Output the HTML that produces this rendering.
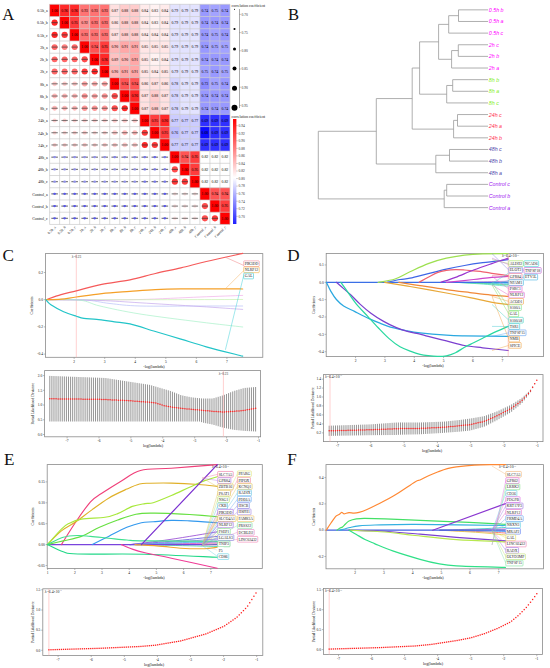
<!DOCTYPE html>
<html><head><meta charset="utf-8"><style>
html,body{margin:0;padding:0;background:#fff;width:550px;height:668px;overflow:hidden;}
svg{display:block;}
</style></head><body>
<svg width="550" height="668" viewBox="0 0 550 668">
<rect width="550" height="668" fill="#fff"/>
<g id="A">
<text x="2.2" y="19.9" font-family="Liberation Serif" font-size="16.6" fill="#111">A</text>
<rect x="49.6" y="4.3" width="10.02" height="12.23" fill="#ff0000"/>
<rect x="59.62" y="4.3" width="10.02" height="12.23" fill="#ff2929"/>
<rect x="69.64" y="4.3" width="10.02" height="12.23" fill="#ff2929"/>
<rect x="79.66" y="4.3" width="10.02" height="12.23" fill="#ff7373"/>
<rect x="89.68" y="4.3" width="10.02" height="12.23" fill="#ff7373"/>
<rect x="99.7" y="4.3" width="10.02" height="12.23" fill="#ff7373"/>
<rect x="109.72" y="4.3" width="10.02" height="12.23" fill="#ffe0e0"/>
<rect x="119.74" y="4.3" width="10.02" height="12.23" fill="#ffcccc"/>
<rect x="129.76" y="4.3" width="10.02" height="12.23" fill="#ffcccc"/>
<rect x="139.78" y="4.3" width="10.02" height="12.23" fill="#ffebeb"/>
<rect x="149.8" y="4.3" width="10.02" height="12.23" fill="#fff2f2"/>
<rect x="159.82" y="4.3" width="10.02" height="12.23" fill="#ffebeb"/>
<rect x="169.84" y="4.3" width="10.02" height="12.23" fill="#e3e3ff"/>
<rect x="179.86" y="4.3" width="10.02" height="12.23" fill="#e3e3ff"/>
<rect x="189.88" y="4.3" width="10.02" height="12.23" fill="#e3e3ff"/>
<rect x="199.9" y="4.3" width="10.02" height="12.23" fill="#9999ff"/>
<rect x="209.92" y="4.3" width="10.02" height="12.23" fill="#a3a3ff"/>
<rect x="219.94" y="4.3" width="10.02" height="12.23" fill="#9999ff"/>
<rect x="59.62" y="16.53" width="10.02" height="12.23" fill="#ff0000"/>
<rect x="69.64" y="16.53" width="10.02" height="12.23" fill="#ff3d3d"/>
<rect x="79.66" y="16.53" width="10.02" height="12.23" fill="#ff8f8f"/>
<rect x="89.68" y="16.53" width="10.02" height="12.23" fill="#ff7373"/>
<rect x="99.7" y="16.53" width="10.02" height="12.23" fill="#ff7373"/>
<rect x="109.72" y="16.53" width="10.02" height="12.23" fill="#ffe3e3"/>
<rect x="119.74" y="16.53" width="10.02" height="12.23" fill="#ffcccc"/>
<rect x="129.76" y="16.53" width="10.02" height="12.23" fill="#ffcccc"/>
<rect x="139.78" y="16.53" width="10.02" height="12.23" fill="#ffebeb"/>
<rect x="149.8" y="16.53" width="10.02" height="12.23" fill="#fff2f2"/>
<rect x="159.82" y="16.53" width="10.02" height="12.23" fill="#ffebeb"/>
<rect x="169.84" y="16.53" width="10.02" height="12.23" fill="#e3e3ff"/>
<rect x="179.86" y="16.53" width="10.02" height="12.23" fill="#e3e3ff"/>
<rect x="189.88" y="16.53" width="10.02" height="12.23" fill="#e3e3ff"/>
<rect x="199.9" y="16.53" width="10.02" height="12.23" fill="#9999ff"/>
<rect x="209.92" y="16.53" width="10.02" height="12.23" fill="#9999ff"/>
<rect x="219.94" y="16.53" width="10.02" height="12.23" fill="#9999ff"/>
<rect x="69.64" y="28.76" width="10.02" height="12.23" fill="#ff0000"/>
<rect x="79.66" y="28.76" width="10.02" height="12.23" fill="#ff7373"/>
<rect x="89.68" y="28.76" width="10.02" height="12.23" fill="#ff7373"/>
<rect x="99.7" y="28.76" width="10.02" height="12.23" fill="#ff7373"/>
<rect x="109.72" y="28.76" width="10.02" height="12.23" fill="#ffe0e0"/>
<rect x="119.74" y="28.76" width="10.02" height="12.23" fill="#ffcccc"/>
<rect x="129.76" y="28.76" width="10.02" height="12.23" fill="#ffcccc"/>
<rect x="139.78" y="28.76" width="10.02" height="12.23" fill="#ffebeb"/>
<rect x="149.8" y="28.76" width="10.02" height="12.23" fill="#ffebeb"/>
<rect x="159.82" y="28.76" width="10.02" height="12.23" fill="#ffebeb"/>
<rect x="169.84" y="28.76" width="10.02" height="12.23" fill="#e3e3ff"/>
<rect x="179.86" y="28.76" width="10.02" height="12.23" fill="#e3e3ff"/>
<rect x="189.88" y="28.76" width="10.02" height="12.23" fill="#e3e3ff"/>
<rect x="199.9" y="28.76" width="10.02" height="12.23" fill="#9999ff"/>
<rect x="209.92" y="28.76" width="10.02" height="12.23" fill="#a3a3ff"/>
<rect x="219.94" y="28.76" width="10.02" height="12.23" fill="#9999ff"/>
<rect x="79.66" y="40.99" width="10.02" height="12.23" fill="#ff0000"/>
<rect x="89.68" y="40.99" width="10.02" height="12.23" fill="#ff5454"/>
<rect x="99.7" y="40.99" width="10.02" height="12.23" fill="#ff3d3d"/>
<rect x="109.72" y="40.99" width="10.02" height="12.23" fill="#ffb8b8"/>
<rect x="119.74" y="40.99" width="10.02" height="12.23" fill="#ffa8a8"/>
<rect x="129.76" y="40.99" width="10.02" height="12.23" fill="#ffa8a8"/>
<rect x="139.78" y="40.99" width="10.02" height="12.23" fill="#ffe6e6"/>
<rect x="149.8" y="40.99" width="10.02" height="12.23" fill="#ffe6e6"/>
<rect x="159.82" y="40.99" width="10.02" height="12.23" fill="#ffe6e6"/>
<rect x="169.84" y="40.99" width="10.02" height="12.23" fill="#e3e3ff"/>
<rect x="179.86" y="40.99" width="10.02" height="12.23" fill="#e3e3ff"/>
<rect x="189.88" y="40.99" width="10.02" height="12.23" fill="#e3e3ff"/>
<rect x="199.9" y="40.99" width="10.02" height="12.23" fill="#9999ff"/>
<rect x="209.92" y="40.99" width="10.02" height="12.23" fill="#a3a3ff"/>
<rect x="219.94" y="40.99" width="10.02" height="12.23" fill="#a3a3ff"/>
<rect x="89.68" y="53.22" width="10.02" height="12.23" fill="#ff0000"/>
<rect x="99.7" y="53.22" width="10.02" height="12.23" fill="#ff2929"/>
<rect x="109.72" y="53.22" width="10.02" height="12.23" fill="#ffc2c2"/>
<rect x="119.74" y="53.22" width="10.02" height="12.23" fill="#ffb8b8"/>
<rect x="129.76" y="53.22" width="10.02" height="12.23" fill="#ffa8a8"/>
<rect x="139.78" y="53.22" width="10.02" height="12.23" fill="#ffe6e6"/>
<rect x="149.8" y="53.22" width="10.02" height="12.23" fill="#fff2f2"/>
<rect x="159.82" y="53.22" width="10.02" height="12.23" fill="#ffebeb"/>
<rect x="169.84" y="53.22" width="10.02" height="12.23" fill="#e3e3ff"/>
<rect x="179.86" y="53.22" width="10.02" height="12.23" fill="#e3e3ff"/>
<rect x="189.88" y="53.22" width="10.02" height="12.23" fill="#e3e3ff"/>
<rect x="199.9" y="53.22" width="10.02" height="12.23" fill="#9999ff"/>
<rect x="209.92" y="53.22" width="10.02" height="12.23" fill="#9999ff"/>
<rect x="219.94" y="53.22" width="10.02" height="12.23" fill="#9999ff"/>
<rect x="99.7" y="65.45" width="10.02" height="12.23" fill="#ff0000"/>
<rect x="109.72" y="65.45" width="10.02" height="12.23" fill="#ffb8b8"/>
<rect x="119.74" y="65.45" width="10.02" height="12.23" fill="#ffa8a8"/>
<rect x="129.76" y="65.45" width="10.02" height="12.23" fill="#ffa8a8"/>
<rect x="139.78" y="65.45" width="10.02" height="12.23" fill="#ffe6e6"/>
<rect x="149.8" y="65.45" width="10.02" height="12.23" fill="#ffebeb"/>
<rect x="159.82" y="65.45" width="10.02" height="12.23" fill="#ffe6e6"/>
<rect x="169.84" y="65.45" width="10.02" height="12.23" fill="#e3e3ff"/>
<rect x="179.86" y="65.45" width="10.02" height="12.23" fill="#e3e3ff"/>
<rect x="189.88" y="65.45" width="10.02" height="12.23" fill="#e3e3ff"/>
<rect x="199.9" y="65.45" width="10.02" height="12.23" fill="#a3a3ff"/>
<rect x="209.92" y="65.45" width="10.02" height="12.23" fill="#9999ff"/>
<rect x="219.94" y="65.45" width="10.02" height="12.23" fill="#a3a3ff"/>
<rect x="109.72" y="77.68" width="10.02" height="12.23" fill="#ff0000"/>
<rect x="119.74" y="77.68" width="10.02" height="12.23" fill="#ff5454"/>
<rect x="129.76" y="77.68" width="10.02" height="12.23" fill="#ff5454"/>
<rect x="139.78" y="77.68" width="10.02" height="12.23" fill="#ffe3e3"/>
<rect x="149.8" y="77.68" width="10.02" height="12.23" fill="#ffe0e0"/>
<rect x="159.82" y="77.68" width="10.02" height="12.23" fill="#ffe3e3"/>
<rect x="169.84" y="77.68" width="10.02" height="12.23" fill="#d6d6ff"/>
<rect x="179.86" y="77.68" width="10.02" height="12.23" fill="#e3e3ff"/>
<rect x="189.88" y="77.68" width="10.02" height="12.23" fill="#e3e3ff"/>
<rect x="199.9" y="77.68" width="10.02" height="12.23" fill="#8c8cff"/>
<rect x="209.92" y="77.68" width="10.02" height="12.23" fill="#a3a3ff"/>
<rect x="219.94" y="77.68" width="10.02" height="12.23" fill="#9999ff"/>
<rect x="119.74" y="89.91" width="10.02" height="12.23" fill="#ff0000"/>
<rect x="129.76" y="89.91" width="10.02" height="12.23" fill="#ff2929"/>
<rect x="139.78" y="89.91" width="10.02" height="12.23" fill="#ffe0e0"/>
<rect x="149.8" y="89.91" width="10.02" height="12.23" fill="#ffcccc"/>
<rect x="159.82" y="89.91" width="10.02" height="12.23" fill="#ffe0e0"/>
<rect x="169.84" y="89.91" width="10.02" height="12.23" fill="#d6d6ff"/>
<rect x="179.86" y="89.91" width="10.02" height="12.23" fill="#e3e3ff"/>
<rect x="189.88" y="89.91" width="10.02" height="12.23" fill="#e3e3ff"/>
<rect x="199.9" y="89.91" width="10.02" height="12.23" fill="#9999ff"/>
<rect x="209.92" y="89.91" width="10.02" height="12.23" fill="#9999ff"/>
<rect x="219.94" y="89.91" width="10.02" height="12.23" fill="#9999ff"/>
<rect x="129.76" y="102.14" width="10.02" height="12.23" fill="#ff0000"/>
<rect x="139.78" y="102.14" width="10.02" height="12.23" fill="#ffe0e0"/>
<rect x="149.8" y="102.14" width="10.02" height="12.23" fill="#ffcccc"/>
<rect x="159.82" y="102.14" width="10.02" height="12.23" fill="#ffe0e0"/>
<rect x="169.84" y="102.14" width="10.02" height="12.23" fill="#d6d6ff"/>
<rect x="179.86" y="102.14" width="10.02" height="12.23" fill="#e3e3ff"/>
<rect x="189.88" y="102.14" width="10.02" height="12.23" fill="#e3e3ff"/>
<rect x="199.9" y="102.14" width="10.02" height="12.23" fill="#9999ff"/>
<rect x="209.92" y="102.14" width="10.02" height="12.23" fill="#9999ff"/>
<rect x="219.94" y="102.14" width="10.02" height="12.23" fill="#9999ff"/>
<rect x="139.78" y="114.37" width="10.02" height="12.23" fill="#ff0000"/>
<rect x="149.8" y="114.37" width="10.02" height="12.23" fill="#ff3d3d"/>
<rect x="159.82" y="114.37" width="10.02" height="12.23" fill="#ff2929"/>
<rect x="169.84" y="114.37" width="10.02" height="12.23" fill="#ccccff"/>
<rect x="179.86" y="114.37" width="10.02" height="12.23" fill="#ccccff"/>
<rect x="189.88" y="114.37" width="10.02" height="12.23" fill="#ccccff"/>
<rect x="199.9" y="114.37" width="10.02" height="12.23" fill="#3030ff"/>
<rect x="209.92" y="114.37" width="10.02" height="12.23" fill="#3030ff"/>
<rect x="219.94" y="114.37" width="10.02" height="12.23" fill="#3030ff"/>
<rect x="149.8" y="126.6" width="10.02" height="12.23" fill="#ff0000"/>
<rect x="159.82" y="126.6" width="10.02" height="12.23" fill="#ff3d3d"/>
<rect x="169.84" y="126.6" width="10.02" height="12.23" fill="#bfbfff"/>
<rect x="179.86" y="126.6" width="10.02" height="12.23" fill="#ccccff"/>
<rect x="189.88" y="126.6" width="10.02" height="12.23" fill="#ccccff"/>
<rect x="199.9" y="126.6" width="10.02" height="12.23" fill="#0d0dff"/>
<rect x="209.92" y="126.6" width="10.02" height="12.23" fill="#3030ff"/>
<rect x="219.94" y="126.6" width="10.02" height="12.23" fill="#3030ff"/>
<rect x="159.82" y="138.83" width="10.02" height="12.23" fill="#ff0000"/>
<rect x="169.84" y="138.83" width="10.02" height="12.23" fill="#ccccff"/>
<rect x="179.86" y="138.83" width="10.02" height="12.23" fill="#ccccff"/>
<rect x="189.88" y="138.83" width="10.02" height="12.23" fill="#ccccff"/>
<rect x="199.9" y="138.83" width="10.02" height="12.23" fill="#3030ff"/>
<rect x="209.92" y="138.83" width="10.02" height="12.23" fill="#3030ff"/>
<rect x="219.94" y="138.83" width="10.02" height="12.23" fill="#3030ff"/>
<rect x="169.84" y="151.06" width="10.02" height="12.23" fill="#ff0000"/>
<rect x="179.86" y="151.06" width="10.02" height="12.23" fill="#ff5454"/>
<rect x="189.88" y="151.06" width="10.02" height="12.23" fill="#ff3d3d"/>
<rect x="199.9" y="151.06" width="10.02" height="12.23" fill="#ffffff"/>
<rect x="209.92" y="151.06" width="10.02" height="12.23" fill="#ffffff"/>
<rect x="219.94" y="151.06" width="10.02" height="12.23" fill="#ffffff"/>
<rect x="179.86" y="163.29" width="10.02" height="12.23" fill="#ff0000"/>
<rect x="189.88" y="163.29" width="10.02" height="12.23" fill="#ff3d3d"/>
<rect x="199.9" y="163.29" width="10.02" height="12.23" fill="#ffffff"/>
<rect x="209.92" y="163.29" width="10.02" height="12.23" fill="#ffffff"/>
<rect x="219.94" y="163.29" width="10.02" height="12.23" fill="#ffffff"/>
<rect x="189.88" y="175.52" width="10.02" height="12.23" fill="#ff0000"/>
<rect x="199.9" y="175.52" width="10.02" height="12.23" fill="#ffffff"/>
<rect x="209.92" y="175.52" width="10.02" height="12.23" fill="#ffffff"/>
<rect x="219.94" y="175.52" width="10.02" height="12.23" fill="#ffffff"/>
<rect x="199.9" y="187.75" width="10.02" height="12.23" fill="#ff0000"/>
<rect x="209.92" y="187.75" width="10.02" height="12.23" fill="#ff5454"/>
<rect x="219.94" y="187.75" width="10.02" height="12.23" fill="#ff5454"/>
<rect x="209.92" y="199.98" width="10.02" height="12.23" fill="#ff0000"/>
<rect x="219.94" y="199.98" width="10.02" height="12.23" fill="#ff3d3d"/>
<rect x="219.94" y="212.21" width="10.02" height="12.23" fill="#ff0000"/>
<line x1="49.6" y1="4.3" x2="229.96" y2="4.3" stroke="#c8c8c8" stroke-width="0.65"/>
<line x1="49.6" y1="16.53" x2="229.96" y2="16.53" stroke="#c8c8c8" stroke-width="0.65"/>
<line x1="49.6" y1="28.76" x2="229.96" y2="28.76" stroke="#c8c8c8" stroke-width="0.65"/>
<line x1="49.6" y1="40.99" x2="229.96" y2="40.99" stroke="#c8c8c8" stroke-width="0.65"/>
<line x1="49.6" y1="53.22" x2="229.96" y2="53.22" stroke="#c8c8c8" stroke-width="0.65"/>
<line x1="49.6" y1="65.45" x2="229.96" y2="65.45" stroke="#c8c8c8" stroke-width="0.65"/>
<line x1="49.6" y1="77.68" x2="229.96" y2="77.68" stroke="#c8c8c8" stroke-width="0.65"/>
<line x1="49.6" y1="89.91" x2="229.96" y2="89.91" stroke="#c8c8c8" stroke-width="0.65"/>
<line x1="49.6" y1="102.14" x2="229.96" y2="102.14" stroke="#c8c8c8" stroke-width="0.65"/>
<line x1="49.6" y1="114.37" x2="229.96" y2="114.37" stroke="#c8c8c8" stroke-width="0.65"/>
<line x1="49.6" y1="126.6" x2="229.96" y2="126.6" stroke="#c8c8c8" stroke-width="0.65"/>
<line x1="49.6" y1="138.83" x2="229.96" y2="138.83" stroke="#c8c8c8" stroke-width="0.65"/>
<line x1="49.6" y1="151.06" x2="229.96" y2="151.06" stroke="#c8c8c8" stroke-width="0.65"/>
<line x1="49.6" y1="163.29" x2="229.96" y2="163.29" stroke="#c8c8c8" stroke-width="0.65"/>
<line x1="49.6" y1="175.52" x2="229.96" y2="175.52" stroke="#c8c8c8" stroke-width="0.65"/>
<line x1="49.6" y1="187.75" x2="229.96" y2="187.75" stroke="#c8c8c8" stroke-width="0.65"/>
<line x1="49.6" y1="199.98" x2="229.96" y2="199.98" stroke="#c8c8c8" stroke-width="0.65"/>
<line x1="49.6" y1="212.21" x2="229.96" y2="212.21" stroke="#c8c8c8" stroke-width="0.65"/>
<line x1="49.6" y1="224.44" x2="229.96" y2="224.44" stroke="#c8c8c8" stroke-width="0.65"/>
<line x1="49.6" y1="4.3" x2="49.6" y2="224.44" stroke="#c8c8c8" stroke-width="0.65"/>
<line x1="59.62" y1="4.3" x2="59.62" y2="224.44" stroke="#c8c8c8" stroke-width="0.65"/>
<line x1="69.64" y1="4.3" x2="69.64" y2="224.44" stroke="#c8c8c8" stroke-width="0.65"/>
<line x1="79.66" y1="4.3" x2="79.66" y2="224.44" stroke="#c8c8c8" stroke-width="0.65"/>
<line x1="89.68" y1="4.3" x2="89.68" y2="224.44" stroke="#c8c8c8" stroke-width="0.65"/>
<line x1="99.7" y1="4.3" x2="99.7" y2="224.44" stroke="#c8c8c8" stroke-width="0.65"/>
<line x1="109.72" y1="4.3" x2="109.72" y2="224.44" stroke="#c8c8c8" stroke-width="0.65"/>
<line x1="119.74" y1="4.3" x2="119.74" y2="224.44" stroke="#c8c8c8" stroke-width="0.65"/>
<line x1="129.76" y1="4.3" x2="129.76" y2="224.44" stroke="#c8c8c8" stroke-width="0.65"/>
<line x1="139.78" y1="4.3" x2="139.78" y2="224.44" stroke="#c8c8c8" stroke-width="0.65"/>
<line x1="149.8" y1="4.3" x2="149.8" y2="224.44" stroke="#c8c8c8" stroke-width="0.65"/>
<line x1="159.82" y1="4.3" x2="159.82" y2="224.44" stroke="#c8c8c8" stroke-width="0.65"/>
<line x1="169.84" y1="4.3" x2="169.84" y2="224.44" stroke="#c8c8c8" stroke-width="0.65"/>
<line x1="179.86" y1="4.3" x2="179.86" y2="224.44" stroke="#c8c8c8" stroke-width="0.65"/>
<line x1="189.88" y1="4.3" x2="189.88" y2="224.44" stroke="#c8c8c8" stroke-width="0.65"/>
<line x1="199.9" y1="4.3" x2="199.9" y2="224.44" stroke="#c8c8c8" stroke-width="0.65"/>
<line x1="209.92" y1="4.3" x2="209.92" y2="224.44" stroke="#c8c8c8" stroke-width="0.65"/>
<line x1="219.94" y1="4.3" x2="219.94" y2="224.44" stroke="#c8c8c8" stroke-width="0.65"/>
<line x1="229.96" y1="4.3" x2="229.96" y2="224.44" stroke="#c8c8c8" stroke-width="0.65"/>
<g font-family="Liberation Serif" font-size="3.8" fill="#000" text-anchor="middle">
<text x="54.61" y="11.71">1.00</text>
<text x="64.63" y="11.71">0.96</text>
<text x="74.65" y="11.71">0.96</text>
<text x="84.67" y="11.71">0.93</text>
<text x="94.69" y="11.71">0.93</text>
<text x="104.71" y="11.71">0.93</text>
<text x="114.73" y="11.71">0.87</text>
<text x="124.75" y="11.71">0.88</text>
<text x="134.77" y="11.71">0.88</text>
<text x="144.79" y="11.71">0.84</text>
<text x="154.81" y="11.71">0.83</text>
<text x="164.83" y="11.71">0.84</text>
<text x="174.85" y="11.71">0.79</text>
<text x="184.87" y="11.71">0.79</text>
<text x="194.89" y="11.71">0.79</text>
<text x="204.91" y="11.71">0.74</text>
<text x="214.93" y="11.71">0.75</text>
<text x="224.95" y="11.71">0.74</text>
<text x="64.63" y="23.95">1.00</text>
<text x="74.65" y="23.95">0.95</text>
<text x="84.67" y="23.95">0.92</text>
<text x="94.69" y="23.95">0.93</text>
<text x="104.71" y="23.95">0.93</text>
<text x="114.73" y="23.95">0.86</text>
<text x="124.75" y="23.95">0.88</text>
<text x="134.77" y="23.95">0.88</text>
<text x="144.79" y="23.95">0.84</text>
<text x="154.81" y="23.95">0.83</text>
<text x="164.83" y="23.95">0.84</text>
<text x="174.85" y="23.95">0.79</text>
<text x="184.87" y="23.95">0.79</text>
<text x="194.89" y="23.95">0.79</text>
<text x="204.91" y="23.95">0.74</text>
<text x="214.93" y="23.95">0.74</text>
<text x="224.95" y="23.95">0.74</text>
<text x="74.65" y="36.17">1.00</text>
<text x="84.67" y="36.17">0.93</text>
<text x="94.69" y="36.17">0.93</text>
<text x="104.71" y="36.17">0.93</text>
<text x="114.73" y="36.17">0.87</text>
<text x="124.75" y="36.17">0.88</text>
<text x="134.77" y="36.17">0.88</text>
<text x="144.79" y="36.17">0.84</text>
<text x="154.81" y="36.17">0.84</text>
<text x="164.83" y="36.17">0.84</text>
<text x="174.85" y="36.17">0.79</text>
<text x="184.87" y="36.17">0.79</text>
<text x="194.89" y="36.17">0.79</text>
<text x="204.91" y="36.17">0.74</text>
<text x="214.93" y="36.17">0.75</text>
<text x="224.95" y="36.17">0.74</text>
<text x="84.67" y="48.4">1.00</text>
<text x="94.69" y="48.4">0.94</text>
<text x="104.71" y="48.4">0.95</text>
<text x="114.73" y="48.4">0.90</text>
<text x="124.75" y="48.4">0.91</text>
<text x="134.77" y="48.4">0.91</text>
<text x="144.79" y="48.4">0.85</text>
<text x="154.81" y="48.4">0.85</text>
<text x="164.83" y="48.4">0.85</text>
<text x="174.85" y="48.4">0.79</text>
<text x="184.87" y="48.4">0.79</text>
<text x="194.89" y="48.4">0.79</text>
<text x="204.91" y="48.4">0.74</text>
<text x="214.93" y="48.4">0.75</text>
<text x="224.95" y="48.4">0.75</text>
<text x="94.69" y="60.63">1.00</text>
<text x="104.71" y="60.63">0.96</text>
<text x="114.73" y="60.63">0.89</text>
<text x="124.75" y="60.63">0.90</text>
<text x="134.77" y="60.63">0.91</text>
<text x="144.79" y="60.63">0.85</text>
<text x="154.81" y="60.63">0.83</text>
<text x="164.83" y="60.63">0.84</text>
<text x="174.85" y="60.63">0.79</text>
<text x="184.87" y="60.63">0.79</text>
<text x="194.89" y="60.63">0.79</text>
<text x="204.91" y="60.63">0.74</text>
<text x="214.93" y="60.63">0.74</text>
<text x="224.95" y="60.63">0.74</text>
<text x="104.71" y="72.86">1.00</text>
<text x="114.73" y="72.86">0.90</text>
<text x="124.75" y="72.86">0.91</text>
<text x="134.77" y="72.86">0.91</text>
<text x="144.79" y="72.86">0.85</text>
<text x="154.81" y="72.86">0.84</text>
<text x="164.83" y="72.86">0.85</text>
<text x="174.85" y="72.86">0.79</text>
<text x="184.87" y="72.86">0.79</text>
<text x="194.89" y="72.86">0.79</text>
<text x="204.91" y="72.86">0.75</text>
<text x="214.93" y="72.86">0.74</text>
<text x="224.95" y="72.86">0.75</text>
<text x="114.73" y="85.09">1.00</text>
<text x="124.75" y="85.09">0.94</text>
<text x="134.77" y="85.09">0.94</text>
<text x="144.79" y="85.09">0.86</text>
<text x="154.81" y="85.09">0.87</text>
<text x="164.83" y="85.09">0.86</text>
<text x="174.85" y="85.09">0.78</text>
<text x="184.87" y="85.09">0.79</text>
<text x="194.89" y="85.09">0.79</text>
<text x="204.91" y="85.09">0.73</text>
<text x="214.93" y="85.09">0.75</text>
<text x="224.95" y="85.09">0.74</text>
<text x="124.75" y="97.33">1.00</text>
<text x="134.77" y="97.33">0.96</text>
<text x="144.79" y="97.33">0.87</text>
<text x="154.81" y="97.33">0.88</text>
<text x="164.83" y="97.33">0.87</text>
<text x="174.85" y="97.33">0.78</text>
<text x="184.87" y="97.33">0.79</text>
<text x="194.89" y="97.33">0.79</text>
<text x="204.91" y="97.33">0.74</text>
<text x="214.93" y="97.33">0.74</text>
<text x="224.95" y="97.33">0.74</text>
<text x="134.77" y="109.55">1.00</text>
<text x="144.79" y="109.55">0.87</text>
<text x="154.81" y="109.55">0.88</text>
<text x="164.83" y="109.55">0.87</text>
<text x="174.85" y="109.55">0.78</text>
<text x="184.87" y="109.55">0.79</text>
<text x="194.89" y="109.55">0.79</text>
<text x="204.91" y="109.55">0.74</text>
<text x="214.93" y="109.55">0.74</text>
<text x="224.95" y="109.55">0.74</text>
<text x="144.79" y="121.78">1.00</text>
<text x="154.81" y="121.78">0.95</text>
<text x="164.83" y="121.78">0.96</text>
<text x="174.85" y="121.78">0.77</text>
<text x="184.87" y="121.78">0.77</text>
<text x="194.89" y="121.78">0.77</text>
<text x="204.91" y="121.78">0.69</text>
<text x="214.93" y="121.78">0.69</text>
<text x="224.95" y="121.78">0.69</text>
<text x="154.81" y="134.02">1.00</text>
<text x="164.83" y="134.02">0.95</text>
<text x="174.85" y="134.02">0.76</text>
<text x="184.87" y="134.02">0.77</text>
<text x="194.89" y="134.02">0.77</text>
<text x="204.91" y="134.02">0.68</text>
<text x="214.93" y="134.02">0.69</text>
<text x="224.95" y="134.02">0.69</text>
<text x="164.83" y="146.25">1.00</text>
<text x="174.85" y="146.25">0.77</text>
<text x="184.87" y="146.25">0.77</text>
<text x="194.89" y="146.25">0.77</text>
<text x="204.91" y="146.25">0.69</text>
<text x="214.93" y="146.25">0.69</text>
<text x="224.95" y="146.25">0.69</text>
<text x="174.85" y="158.48">1.00</text>
<text x="184.87" y="158.48">0.94</text>
<text x="194.89" y="158.48">0.95</text>
<text x="204.91" y="158.48">0.82</text>
<text x="214.93" y="158.48">0.82</text>
<text x="224.95" y="158.48">0.82</text>
<text x="184.87" y="170.71">1.00</text>
<text x="194.89" y="170.71">0.95</text>
<text x="204.91" y="170.71">0.82</text>
<text x="214.93" y="170.71">0.82</text>
<text x="224.95" y="170.71">0.82</text>
<text x="194.89" y="182.94">1.00</text>
<text x="204.91" y="182.94">0.82</text>
<text x="214.93" y="182.94">0.82</text>
<text x="224.95" y="182.94">0.82</text>
<text x="204.91" y="195.17">1.00</text>
<text x="214.93" y="195.17">0.94</text>
<text x="224.95" y="195.17">0.94</text>
<text x="214.93" y="207.4">1.00</text>
<text x="224.95" y="207.4">0.95</text>
<text x="224.95" y="219.63">1.00</text>
</g>
<circle cx="54.61" cy="22.64" r="3.05" fill="#ff2525"/>
<rect x="51.41" y="22.09" width="6.4" height="1.1" fill="#333" fill-opacity="0.62"/>
<circle cx="54.61" cy="34.88" r="3.05" fill="#ff2525"/>
<rect x="51.41" y="34.33" width="6.4" height="1.1" fill="#333" fill-opacity="0.62"/>
<circle cx="64.63" cy="34.88" r="3.05" fill="#ff3737"/>
<rect x="61.43" y="34.33" width="6.4" height="1.1" fill="#333" fill-opacity="0.62"/>
<circle cx="54.61" cy="47.1" r="2.96" fill="#ff6767"/>
<rect x="51.41" y="46.55" width="6.4" height="1.1" fill="#333" fill-opacity="0.62"/>
<circle cx="64.63" cy="47.1" r="2.86" fill="#ff8181"/>
<rect x="61.43" y="46.55" width="6.4" height="1.1" fill="#333" fill-opacity="0.62"/>
<circle cx="74.65" cy="47.1" r="2.96" fill="#ff6767"/>
<rect x="71.45" y="46.55" width="6.4" height="1.1" fill="#333" fill-opacity="0.62"/>
<circle cx="54.61" cy="59.34" r="2.96" fill="#ff6767"/>
<rect x="51.41" y="58.79" width="6.4" height="1.1" fill="#333" fill-opacity="0.62"/>
<circle cx="64.63" cy="59.34" r="2.96" fill="#ff6767"/>
<rect x="61.43" y="58.79" width="6.4" height="1.1" fill="#333" fill-opacity="0.62"/>
<circle cx="74.65" cy="59.34" r="2.96" fill="#ff6767"/>
<rect x="71.45" y="58.79" width="6.4" height="1.1" fill="#333" fill-opacity="0.62"/>
<circle cx="84.67" cy="59.34" r="3.05" fill="#ff4c4c"/>
<rect x="81.47" y="58.79" width="6.4" height="1.1" fill="#333" fill-opacity="0.62"/>
<circle cx="54.61" cy="71.56" r="2.96" fill="#ff6767"/>
<rect x="51.41" y="71.02" width="6.4" height="1.1" fill="#333" fill-opacity="0.62"/>
<circle cx="64.63" cy="71.56" r="2.96" fill="#ff6767"/>
<rect x="61.43" y="71.02" width="6.4" height="1.1" fill="#333" fill-opacity="0.62"/>
<circle cx="74.65" cy="71.56" r="2.96" fill="#ff6767"/>
<rect x="71.45" y="71.02" width="6.4" height="1.1" fill="#333" fill-opacity="0.62"/>
<circle cx="84.67" cy="71.56" r="3.05" fill="#ff3737"/>
<rect x="81.47" y="71.02" width="6.4" height="1.1" fill="#333" fill-opacity="0.62"/>
<circle cx="94.69" cy="71.56" r="3.05" fill="#ff2525"/>
<rect x="91.49" y="71.02" width="6.4" height="1.1" fill="#333" fill-opacity="0.62"/>
<circle cx="54.61" cy="83.8" r="2.35" fill="#ffcaca"/>
<rect x="51.41" y="83.25" width="6.4" height="1.1" fill="#333" fill-opacity="0.62"/>
<circle cx="64.63" cy="83.8" r="2.24" fill="#ffcccc"/>
<rect x="61.43" y="83.25" width="6.4" height="1.1" fill="#333" fill-opacity="0.62"/>
<circle cx="74.65" cy="83.8" r="2.35" fill="#ffcaca"/>
<rect x="71.45" y="83.25" width="6.4" height="1.1" fill="#333" fill-opacity="0.62"/>
<circle cx="84.67" cy="83.8" r="2.65" fill="#ffa5a5"/>
<rect x="81.47" y="83.25" width="6.4" height="1.1" fill="#333" fill-opacity="0.62"/>
<circle cx="94.69" cy="83.8" r="2.55" fill="#ffaeae"/>
<rect x="91.49" y="83.25" width="6.4" height="1.1" fill="#333" fill-opacity="0.62"/>
<circle cx="104.71" cy="83.8" r="2.65" fill="#ffa5a5"/>
<rect x="101.51" y="83.25" width="6.4" height="1.1" fill="#333" fill-opacity="0.62"/>
<circle cx="54.61" cy="96.03" r="2.45" fill="#ffb8b8"/>
<rect x="51.41" y="95.48" width="6.4" height="1.1" fill="#333" fill-opacity="0.62"/>
<circle cx="64.63" cy="96.03" r="2.45" fill="#ffb8b8"/>
<rect x="61.43" y="95.48" width="6.4" height="1.1" fill="#333" fill-opacity="0.62"/>
<circle cx="74.65" cy="96.03" r="2.45" fill="#ffb8b8"/>
<rect x="71.45" y="95.48" width="6.4" height="1.1" fill="#333" fill-opacity="0.62"/>
<circle cx="84.67" cy="96.03" r="2.75" fill="#ff9797"/>
<rect x="81.47" y="95.48" width="6.4" height="1.1" fill="#333" fill-opacity="0.62"/>
<circle cx="94.69" cy="96.03" r="2.65" fill="#ffa5a5"/>
<rect x="91.49" y="95.48" width="6.4" height="1.1" fill="#333" fill-opacity="0.62"/>
<circle cx="104.71" cy="96.03" r="2.75" fill="#ff9797"/>
<rect x="101.51" y="95.48" width="6.4" height="1.1" fill="#333" fill-opacity="0.62"/>
<circle cx="114.73" cy="96.03" r="3.05" fill="#ff4c4c"/>
<rect x="111.53" y="95.48" width="6.4" height="1.1" fill="#333" fill-opacity="0.62"/>
<circle cx="54.61" cy="108.25" r="2.45" fill="#ffb8b8"/>
<rect x="51.41" y="107.7" width="6.4" height="1.1" fill="#333" fill-opacity="0.62"/>
<circle cx="64.63" cy="108.25" r="2.45" fill="#ffb8b8"/>
<rect x="61.43" y="107.7" width="6.4" height="1.1" fill="#333" fill-opacity="0.62"/>
<circle cx="74.65" cy="108.25" r="2.45" fill="#ffb8b8"/>
<rect x="71.45" y="107.7" width="6.4" height="1.1" fill="#333" fill-opacity="0.62"/>
<circle cx="84.67" cy="108.25" r="2.75" fill="#ff9797"/>
<rect x="81.47" y="107.7" width="6.4" height="1.1" fill="#333" fill-opacity="0.62"/>
<circle cx="94.69" cy="108.25" r="2.75" fill="#ff9797"/>
<rect x="91.49" y="107.7" width="6.4" height="1.1" fill="#333" fill-opacity="0.62"/>
<circle cx="104.71" cy="108.25" r="2.75" fill="#ff9797"/>
<rect x="101.51" y="107.7" width="6.4" height="1.1" fill="#333" fill-opacity="0.62"/>
<circle cx="114.73" cy="108.25" r="3.05" fill="#ff4c4c"/>
<rect x="111.53" y="107.7" width="6.4" height="1.1" fill="#333" fill-opacity="0.62"/>
<circle cx="124.75" cy="108.25" r="3.05" fill="#ff2525"/>
<rect x="121.55" y="107.7" width="6.4" height="1.1" fill="#333" fill-opacity="0.62"/>
<circle cx="54.61" cy="120.48" r="2.04" fill="#ffd3d3"/>
<rect x="51.41" y="119.94" width="6.4" height="1.1" fill="#333" fill-opacity="0.62"/>
<circle cx="64.63" cy="120.48" r="2.04" fill="#ffd3d3"/>
<rect x="61.43" y="119.94" width="6.4" height="1.1" fill="#333" fill-opacity="0.62"/>
<circle cx="74.65" cy="120.48" r="2.04" fill="#ffd3d3"/>
<rect x="71.45" y="119.94" width="6.4" height="1.1" fill="#333" fill-opacity="0.62"/>
<circle cx="84.67" cy="120.48" r="2.14" fill="#ffcfcf"/>
<rect x="81.47" y="119.94" width="6.4" height="1.1" fill="#333" fill-opacity="0.62"/>
<circle cx="94.69" cy="120.48" r="2.14" fill="#ffcfcf"/>
<rect x="91.49" y="119.94" width="6.4" height="1.1" fill="#333" fill-opacity="0.62"/>
<circle cx="104.71" cy="120.48" r="2.14" fill="#ffcfcf"/>
<rect x="101.51" y="119.94" width="6.4" height="1.1" fill="#333" fill-opacity="0.62"/>
<circle cx="114.73" cy="120.48" r="2.24" fill="#ffcccc"/>
<rect x="111.53" y="119.94" width="6.4" height="1.1" fill="#333" fill-opacity="0.62"/>
<circle cx="124.75" cy="120.48" r="2.35" fill="#ffcaca"/>
<rect x="121.55" y="119.94" width="6.4" height="1.1" fill="#333" fill-opacity="0.62"/>
<circle cx="134.77" cy="120.48" r="2.35" fill="#ffcaca"/>
<rect x="131.57" y="119.94" width="6.4" height="1.1" fill="#333" fill-opacity="0.62"/>
<circle cx="54.61" cy="132.72" r="1.94" fill="#ffdada"/>
<rect x="51.41" y="132.16" width="6.4" height="1.1" fill="#333" fill-opacity="0.62"/>
<circle cx="64.63" cy="132.72" r="1.94" fill="#ffdada"/>
<rect x="61.43" y="132.16" width="6.4" height="1.1" fill="#333" fill-opacity="0.62"/>
<circle cx="74.65" cy="132.72" r="2.04" fill="#ffd3d3"/>
<rect x="71.45" y="132.16" width="6.4" height="1.1" fill="#333" fill-opacity="0.62"/>
<circle cx="84.67" cy="132.72" r="2.14" fill="#ffcfcf"/>
<rect x="81.47" y="132.16" width="6.4" height="1.1" fill="#333" fill-opacity="0.62"/>
<circle cx="94.69" cy="132.72" r="1.94" fill="#ffdada"/>
<rect x="91.49" y="132.16" width="6.4" height="1.1" fill="#333" fill-opacity="0.62"/>
<circle cx="104.71" cy="132.72" r="2.04" fill="#ffd3d3"/>
<rect x="101.51" y="132.16" width="6.4" height="1.1" fill="#333" fill-opacity="0.62"/>
<circle cx="114.73" cy="132.72" r="2.35" fill="#ffcaca"/>
<rect x="111.53" y="132.16" width="6.4" height="1.1" fill="#333" fill-opacity="0.62"/>
<circle cx="124.75" cy="132.72" r="2.45" fill="#ffb8b8"/>
<rect x="121.55" y="132.16" width="6.4" height="1.1" fill="#333" fill-opacity="0.62"/>
<circle cx="134.77" cy="132.72" r="2.45" fill="#ffb8b8"/>
<rect x="131.57" y="132.16" width="6.4" height="1.1" fill="#333" fill-opacity="0.62"/>
<circle cx="144.79" cy="132.72" r="3.05" fill="#ff3737"/>
<rect x="141.59" y="132.16" width="6.4" height="1.1" fill="#333" fill-opacity="0.62"/>
<circle cx="54.61" cy="144.95" r="2.04" fill="#ffd3d3"/>
<rect x="51.41" y="144.4" width="6.4" height="1.1" fill="#333" fill-opacity="0.62"/>
<circle cx="64.63" cy="144.95" r="2.04" fill="#ffd3d3"/>
<rect x="61.43" y="144.4" width="6.4" height="1.1" fill="#333" fill-opacity="0.62"/>
<circle cx="74.65" cy="144.95" r="2.04" fill="#ffd3d3"/>
<rect x="71.45" y="144.4" width="6.4" height="1.1" fill="#333" fill-opacity="0.62"/>
<circle cx="84.67" cy="144.95" r="2.14" fill="#ffcfcf"/>
<rect x="81.47" y="144.4" width="6.4" height="1.1" fill="#333" fill-opacity="0.62"/>
<circle cx="94.69" cy="144.95" r="2.04" fill="#ffd3d3"/>
<rect x="91.49" y="144.4" width="6.4" height="1.1" fill="#333" fill-opacity="0.62"/>
<circle cx="104.71" cy="144.95" r="2.14" fill="#ffcfcf"/>
<rect x="101.51" y="144.4" width="6.4" height="1.1" fill="#333" fill-opacity="0.62"/>
<circle cx="114.73" cy="144.95" r="2.24" fill="#ffcccc"/>
<rect x="111.53" y="144.4" width="6.4" height="1.1" fill="#333" fill-opacity="0.62"/>
<circle cx="124.75" cy="144.95" r="2.35" fill="#ffcaca"/>
<rect x="121.55" y="144.4" width="6.4" height="1.1" fill="#333" fill-opacity="0.62"/>
<circle cx="134.77" cy="144.95" r="2.35" fill="#ffcaca"/>
<rect x="131.57" y="144.4" width="6.4" height="1.1" fill="#333" fill-opacity="0.62"/>
<circle cx="144.79" cy="144.95" r="3.05" fill="#ff2525"/>
<rect x="141.59" y="144.4" width="6.4" height="1.1" fill="#333" fill-opacity="0.62"/>
<circle cx="154.81" cy="144.95" r="3.05" fill="#ff3737"/>
<rect x="151.61" y="144.4" width="6.4" height="1.1" fill="#333" fill-opacity="0.62"/>
<rect x="51.31" y="156.58" width="6.6" height="1.2" fill="#444" fill-opacity="0.7"/>
<ellipse cx="54.61" cy="157.18" rx="1.45" ry="1.1" fill="#9191ea"/>
<rect x="61.33" y="156.58" width="6.6" height="1.2" fill="#444" fill-opacity="0.7"/>
<ellipse cx="64.63" cy="157.18" rx="1.45" ry="1.1" fill="#9191ea"/>
<rect x="71.35" y="156.58" width="6.6" height="1.2" fill="#444" fill-opacity="0.7"/>
<ellipse cx="74.65" cy="157.18" rx="1.45" ry="1.1" fill="#9191ea"/>
<rect x="81.37" y="156.58" width="6.6" height="1.2" fill="#444" fill-opacity="0.7"/>
<ellipse cx="84.67" cy="157.18" rx="1.45" ry="1.1" fill="#9191ea"/>
<rect x="91.39" y="156.58" width="6.6" height="1.2" fill="#444" fill-opacity="0.7"/>
<ellipse cx="94.69" cy="157.18" rx="1.45" ry="1.1" fill="#9191ea"/>
<rect x="101.41" y="156.58" width="6.6" height="1.2" fill="#444" fill-opacity="0.7"/>
<ellipse cx="104.71" cy="157.18" rx="1.45" ry="1.1" fill="#9191ea"/>
<rect x="111.43" y="156.58" width="6.6" height="1.2" fill="#444" fill-opacity="0.7"/>
<ellipse cx="114.73" cy="157.18" rx="1.45" ry="1.1" fill="#8282ea"/>
<rect x="121.45" y="156.58" width="6.6" height="1.2" fill="#444" fill-opacity="0.7"/>
<ellipse cx="124.75" cy="157.18" rx="1.45" ry="1.1" fill="#8282ea"/>
<rect x="131.47" y="156.58" width="6.6" height="1.2" fill="#444" fill-opacity="0.7"/>
<ellipse cx="134.77" cy="157.18" rx="1.45" ry="1.1" fill="#8282ea"/>
<rect x="141.49" y="156.58" width="6.6" height="1.2" fill="#444" fill-opacity="0.7"/>
<ellipse cx="144.79" cy="157.18" rx="1.45" ry="1.1" fill="#7575ea"/>
<rect x="151.51" y="156.58" width="6.6" height="1.2" fill="#444" fill-opacity="0.7"/>
<ellipse cx="154.81" cy="157.18" rx="1.45" ry="1.1" fill="#6666ea"/>
<rect x="161.53" y="156.58" width="6.6" height="1.2" fill="#444" fill-opacity="0.7"/>
<ellipse cx="164.83" cy="157.18" rx="1.45" ry="1.1" fill="#7575ea"/>
<rect x="51.31" y="168.81" width="6.6" height="1.2" fill="#444" fill-opacity="0.7"/>
<ellipse cx="54.61" cy="169.41" rx="1.45" ry="1.1" fill="#9191ea"/>
<rect x="61.33" y="168.81" width="6.6" height="1.2" fill="#444" fill-opacity="0.7"/>
<ellipse cx="64.63" cy="169.41" rx="1.45" ry="1.1" fill="#9191ea"/>
<rect x="71.35" y="168.81" width="6.6" height="1.2" fill="#444" fill-opacity="0.7"/>
<ellipse cx="74.65" cy="169.41" rx="1.45" ry="1.1" fill="#9191ea"/>
<rect x="81.37" y="168.81" width="6.6" height="1.2" fill="#444" fill-opacity="0.7"/>
<ellipse cx="84.67" cy="169.41" rx="1.45" ry="1.1" fill="#9191ea"/>
<rect x="91.39" y="168.81" width="6.6" height="1.2" fill="#444" fill-opacity="0.7"/>
<ellipse cx="94.69" cy="169.41" rx="1.45" ry="1.1" fill="#9191ea"/>
<rect x="101.41" y="168.81" width="6.6" height="1.2" fill="#444" fill-opacity="0.7"/>
<ellipse cx="104.71" cy="169.41" rx="1.45" ry="1.1" fill="#9191ea"/>
<rect x="111.43" y="168.81" width="6.6" height="1.2" fill="#444" fill-opacity="0.7"/>
<ellipse cx="114.73" cy="169.41" rx="1.45" ry="1.1" fill="#9191ea"/>
<rect x="121.45" y="168.81" width="6.6" height="1.2" fill="#444" fill-opacity="0.7"/>
<ellipse cx="124.75" cy="169.41" rx="1.45" ry="1.1" fill="#9191ea"/>
<rect x="131.47" y="168.81" width="6.6" height="1.2" fill="#444" fill-opacity="0.7"/>
<ellipse cx="134.77" cy="169.41" rx="1.45" ry="1.1" fill="#9191ea"/>
<rect x="141.49" y="168.81" width="6.6" height="1.2" fill="#444" fill-opacity="0.7"/>
<ellipse cx="144.79" cy="169.41" rx="1.45" ry="1.1" fill="#7575ea"/>
<rect x="151.51" y="168.81" width="6.6" height="1.2" fill="#444" fill-opacity="0.7"/>
<ellipse cx="154.81" cy="169.41" rx="1.45" ry="1.1" fill="#7575ea"/>
<rect x="161.53" y="168.81" width="6.6" height="1.2" fill="#444" fill-opacity="0.7"/>
<ellipse cx="164.83" cy="169.41" rx="1.45" ry="1.1" fill="#7575ea"/>
<circle cx="174.85" cy="169.41" r="3.05" fill="#ff4c4c"/>
<rect x="171.65" y="168.86" width="6.4" height="1.1" fill="#333" fill-opacity="0.62"/>
<rect x="51.31" y="181.04" width="6.6" height="1.2" fill="#444" fill-opacity="0.7"/>
<ellipse cx="54.61" cy="181.64" rx="1.45" ry="1.1" fill="#9191ea"/>
<rect x="61.33" y="181.04" width="6.6" height="1.2" fill="#444" fill-opacity="0.7"/>
<ellipse cx="64.63" cy="181.64" rx="1.45" ry="1.1" fill="#9191ea"/>
<rect x="71.35" y="181.04" width="6.6" height="1.2" fill="#444" fill-opacity="0.7"/>
<ellipse cx="74.65" cy="181.64" rx="1.45" ry="1.1" fill="#9191ea"/>
<rect x="81.37" y="181.04" width="6.6" height="1.2" fill="#444" fill-opacity="0.7"/>
<ellipse cx="84.67" cy="181.64" rx="1.45" ry="1.1" fill="#9191ea"/>
<rect x="91.39" y="181.04" width="6.6" height="1.2" fill="#444" fill-opacity="0.7"/>
<ellipse cx="94.69" cy="181.64" rx="1.45" ry="1.1" fill="#9191ea"/>
<rect x="101.41" y="181.04" width="6.6" height="1.2" fill="#444" fill-opacity="0.7"/>
<ellipse cx="104.71" cy="181.64" rx="1.45" ry="1.1" fill="#9191ea"/>
<rect x="111.43" y="181.04" width="6.6" height="1.2" fill="#444" fill-opacity="0.7"/>
<ellipse cx="114.73" cy="181.64" rx="1.45" ry="1.1" fill="#9191ea"/>
<rect x="121.45" y="181.04" width="6.6" height="1.2" fill="#444" fill-opacity="0.7"/>
<ellipse cx="124.75" cy="181.64" rx="1.45" ry="1.1" fill="#9191ea"/>
<rect x="131.47" y="181.04" width="6.6" height="1.2" fill="#444" fill-opacity="0.7"/>
<ellipse cx="134.77" cy="181.64" rx="1.45" ry="1.1" fill="#9191ea"/>
<rect x="141.49" y="181.04" width="6.6" height="1.2" fill="#444" fill-opacity="0.7"/>
<ellipse cx="144.79" cy="181.64" rx="1.45" ry="1.1" fill="#7575ea"/>
<rect x="151.51" y="181.04" width="6.6" height="1.2" fill="#444" fill-opacity="0.7"/>
<ellipse cx="154.81" cy="181.64" rx="1.45" ry="1.1" fill="#7575ea"/>
<rect x="161.53" y="181.04" width="6.6" height="1.2" fill="#444" fill-opacity="0.7"/>
<ellipse cx="164.83" cy="181.64" rx="1.45" ry="1.1" fill="#7575ea"/>
<circle cx="174.85" cy="181.64" r="3.05" fill="#ff3737"/>
<rect x="171.65" y="181.09" width="6.4" height="1.1" fill="#333" fill-opacity="0.62"/>
<circle cx="184.87" cy="181.64" r="3.05" fill="#ff3737"/>
<rect x="181.67" y="181.09" width="6.4" height="1.1" fill="#333" fill-opacity="0.62"/>
<rect x="51.31" y="193.27" width="6.6" height="1.2" fill="#444" fill-opacity="0.7"/>
<ellipse cx="54.61" cy="193.87" rx="1.45" ry="1.1" fill="#5757ea"/>
<rect x="61.33" y="193.27" width="6.6" height="1.2" fill="#444" fill-opacity="0.7"/>
<ellipse cx="64.63" cy="193.87" rx="1.45" ry="1.1" fill="#5757ea"/>
<rect x="71.35" y="193.27" width="6.6" height="1.2" fill="#444" fill-opacity="0.7"/>
<ellipse cx="74.65" cy="193.87" rx="1.45" ry="1.1" fill="#5757ea"/>
<rect x="81.37" y="193.27" width="6.6" height="1.2" fill="#444" fill-opacity="0.7"/>
<ellipse cx="84.67" cy="193.87" rx="1.45" ry="1.1" fill="#5757ea"/>
<rect x="91.39" y="193.27" width="6.6" height="1.2" fill="#444" fill-opacity="0.7"/>
<ellipse cx="94.69" cy="193.87" rx="1.45" ry="1.1" fill="#5757ea"/>
<rect x="101.41" y="193.27" width="6.6" height="1.2" fill="#444" fill-opacity="0.7"/>
<ellipse cx="104.71" cy="193.87" rx="1.45" ry="1.1" fill="#5757ea"/>
<rect x="111.43" y="193.27" width="6.6" height="1.2" fill="#444" fill-opacity="0.7"/>
<ellipse cx="114.73" cy="193.87" rx="1.45" ry="1.1" fill="#5757ea"/>
<rect x="121.45" y="193.27" width="6.6" height="1.2" fill="#444" fill-opacity="0.7"/>
<ellipse cx="124.75" cy="193.87" rx="1.45" ry="1.1" fill="#5757ea"/>
<rect x="131.47" y="193.27" width="6.6" height="1.2" fill="#444" fill-opacity="0.7"/>
<ellipse cx="134.77" cy="193.87" rx="1.45" ry="1.1" fill="#5757ea"/>
<rect x="141.49" y="193.27" width="6.6" height="1.2" fill="#444" fill-opacity="0.7"/>
<ellipse cx="144.79" cy="193.87" rx="1.45" ry="1.1" fill="#5757ea"/>
<rect x="151.51" y="193.27" width="6.6" height="1.2" fill="#444" fill-opacity="0.7"/>
<ellipse cx="154.81" cy="193.87" rx="1.45" ry="1.1" fill="#5757ea"/>
<rect x="161.53" y="193.27" width="6.6" height="1.2" fill="#444" fill-opacity="0.7"/>
<ellipse cx="164.83" cy="193.87" rx="1.45" ry="1.1" fill="#5757ea"/>
<circle cx="174.85" cy="193.87" r="1.84" fill="#ffe6e6"/>
<rect x="171.65" y="193.31" width="6.4" height="1.1" fill="#333" fill-opacity="0.62"/>
<circle cx="184.87" cy="193.87" r="1.84" fill="#ffe6e6"/>
<rect x="181.67" y="193.31" width="6.4" height="1.1" fill="#333" fill-opacity="0.62"/>
<circle cx="194.89" cy="193.87" r="1.84" fill="#ffe6e6"/>
<rect x="191.69" y="193.31" width="6.4" height="1.1" fill="#333" fill-opacity="0.62"/>
<rect x="51.31" y="205.5" width="6.6" height="1.2" fill="#444" fill-opacity="0.7"/>
<ellipse cx="54.61" cy="206.1" rx="1.45" ry="1.1" fill="#5757ea"/>
<rect x="61.33" y="205.5" width="6.6" height="1.2" fill="#444" fill-opacity="0.7"/>
<ellipse cx="64.63" cy="206.1" rx="1.45" ry="1.1" fill="#5757ea"/>
<rect x="71.35" y="205.5" width="6.6" height="1.2" fill="#444" fill-opacity="0.7"/>
<ellipse cx="74.65" cy="206.1" rx="1.45" ry="1.1" fill="#5757ea"/>
<rect x="81.37" y="205.5" width="6.6" height="1.2" fill="#444" fill-opacity="0.7"/>
<ellipse cx="84.67" cy="206.1" rx="1.45" ry="1.1" fill="#5757ea"/>
<rect x="91.39" y="205.5" width="6.6" height="1.2" fill="#444" fill-opacity="0.7"/>
<ellipse cx="94.69" cy="206.1" rx="1.45" ry="1.1" fill="#5757ea"/>
<rect x="101.41" y="205.5" width="6.6" height="1.2" fill="#444" fill-opacity="0.7"/>
<ellipse cx="104.71" cy="206.1" rx="1.45" ry="1.1" fill="#5757ea"/>
<rect x="111.43" y="205.5" width="6.6" height="1.2" fill="#444" fill-opacity="0.7"/>
<ellipse cx="114.73" cy="206.1" rx="1.45" ry="1.1" fill="#5757ea"/>
<rect x="121.45" y="205.5" width="6.6" height="1.2" fill="#444" fill-opacity="0.7"/>
<ellipse cx="124.75" cy="206.1" rx="1.45" ry="1.1" fill="#5757ea"/>
<rect x="131.47" y="205.5" width="6.6" height="1.2" fill="#444" fill-opacity="0.7"/>
<ellipse cx="134.77" cy="206.1" rx="1.45" ry="1.1" fill="#5757ea"/>
<rect x="141.49" y="205.5" width="6.6" height="1.2" fill="#444" fill-opacity="0.7"/>
<ellipse cx="144.79" cy="206.1" rx="1.45" ry="1.1" fill="#5757ea"/>
<rect x="151.51" y="205.5" width="6.6" height="1.2" fill="#444" fill-opacity="0.7"/>
<ellipse cx="154.81" cy="206.1" rx="1.45" ry="1.1" fill="#5757ea"/>
<rect x="161.53" y="205.5" width="6.6" height="1.2" fill="#444" fill-opacity="0.7"/>
<ellipse cx="164.83" cy="206.1" rx="1.45" ry="1.1" fill="#5757ea"/>
<circle cx="174.85" cy="206.1" r="1.84" fill="#ffe6e6"/>
<rect x="171.65" y="205.55" width="6.4" height="1.1" fill="#333" fill-opacity="0.62"/>
<circle cx="184.87" cy="206.1" r="1.84" fill="#ffe6e6"/>
<rect x="181.67" y="205.55" width="6.4" height="1.1" fill="#333" fill-opacity="0.62"/>
<circle cx="194.89" cy="206.1" r="1.84" fill="#ffe6e6"/>
<rect x="191.69" y="205.55" width="6.4" height="1.1" fill="#333" fill-opacity="0.62"/>
<circle cx="204.91" cy="206.1" r="3.05" fill="#ff4c4c"/>
<rect x="201.71" y="205.55" width="6.4" height="1.1" fill="#333" fill-opacity="0.62"/>
<rect x="51.31" y="217.73" width="6.6" height="1.2" fill="#444" fill-opacity="0.7"/>
<ellipse cx="54.61" cy="218.33" rx="1.45" ry="1.1" fill="#5757ea"/>
<rect x="61.33" y="217.73" width="6.6" height="1.2" fill="#444" fill-opacity="0.7"/>
<ellipse cx="64.63" cy="218.33" rx="1.45" ry="1.1" fill="#5757ea"/>
<rect x="71.35" y="217.73" width="6.6" height="1.2" fill="#444" fill-opacity="0.7"/>
<ellipse cx="74.65" cy="218.33" rx="1.45" ry="1.1" fill="#5757ea"/>
<rect x="81.37" y="217.73" width="6.6" height="1.2" fill="#444" fill-opacity="0.7"/>
<ellipse cx="84.67" cy="218.33" rx="1.45" ry="1.1" fill="#5757ea"/>
<rect x="91.39" y="217.73" width="6.6" height="1.2" fill="#444" fill-opacity="0.7"/>
<ellipse cx="94.69" cy="218.33" rx="1.45" ry="1.1" fill="#5757ea"/>
<rect x="101.41" y="217.73" width="6.6" height="1.2" fill="#444" fill-opacity="0.7"/>
<ellipse cx="104.71" cy="218.33" rx="1.45" ry="1.1" fill="#5757ea"/>
<rect x="111.43" y="217.73" width="6.6" height="1.2" fill="#444" fill-opacity="0.7"/>
<ellipse cx="114.73" cy="218.33" rx="1.45" ry="1.1" fill="#5757ea"/>
<rect x="121.45" y="217.73" width="6.6" height="1.2" fill="#444" fill-opacity="0.7"/>
<ellipse cx="124.75" cy="218.33" rx="1.45" ry="1.1" fill="#5757ea"/>
<rect x="131.47" y="217.73" width="6.6" height="1.2" fill="#444" fill-opacity="0.7"/>
<ellipse cx="134.77" cy="218.33" rx="1.45" ry="1.1" fill="#5757ea"/>
<rect x="141.49" y="217.73" width="6.6" height="1.2" fill="#444" fill-opacity="0.7"/>
<ellipse cx="144.79" cy="218.33" rx="1.45" ry="1.1" fill="#5757ea"/>
<rect x="151.51" y="217.73" width="6.6" height="1.2" fill="#444" fill-opacity="0.7"/>
<ellipse cx="154.81" cy="218.33" rx="1.45" ry="1.1" fill="#5757ea"/>
<rect x="161.53" y="217.73" width="6.6" height="1.2" fill="#444" fill-opacity="0.7"/>
<ellipse cx="164.83" cy="218.33" rx="1.45" ry="1.1" fill="#5757ea"/>
<circle cx="174.85" cy="218.33" r="1.84" fill="#ffe6e6"/>
<rect x="171.65" y="217.78" width="6.4" height="1.1" fill="#333" fill-opacity="0.62"/>
<circle cx="184.87" cy="218.33" r="1.84" fill="#ffe6e6"/>
<rect x="181.67" y="217.78" width="6.4" height="1.1" fill="#333" fill-opacity="0.62"/>
<circle cx="194.89" cy="218.33" r="1.84" fill="#ffe6e6"/>
<rect x="191.69" y="217.78" width="6.4" height="1.1" fill="#333" fill-opacity="0.62"/>
<circle cx="204.91" cy="218.33" r="3.05" fill="#ff4c4c"/>
<rect x="201.71" y="217.78" width="6.4" height="1.1" fill="#333" fill-opacity="0.62"/>
<circle cx="214.93" cy="218.33" r="3.05" fill="#ff3737"/>
<rect x="211.73" y="217.78" width="6.4" height="1.1" fill="#333" fill-opacity="0.62"/>
<g font-family="Liberation Serif" font-size="3.9" fill="#111" text-anchor="end">
<text x="47.8" y="12.21">0.5h_a</text>
<text x="47.8" y="24.45">0.5h_b</text>
<text x="47.8" y="36.67">0.5h_c</text>
<text x="47.8" y="48.9">2h_a</text>
<text x="47.8" y="61.13">2h_b</text>
<text x="47.8" y="73.36">2h_c</text>
<text x="47.8" y="85.59">8h_a</text>
<text x="47.8" y="97.83">8h_b</text>
<text x="47.8" y="110.05">8h_c</text>
<text x="47.8" y="122.28">24h_a</text>
<text x="47.8" y="134.52">24h_b</text>
<text x="47.8" y="146.75">24h_c</text>
<text x="47.8" y="158.98">48h_a</text>
<text x="47.8" y="171.21">48h_b</text>
<text x="47.8" y="183.44">48h_c</text>
<text x="47.8" y="195.67">Control_a</text>
<text x="47.8" y="207.9">Control_b</text>
<text x="47.8" y="220.13">Control_c</text>
</g>
<g font-family="Liberation Serif" font-size="3.7" fill="#111" text-anchor="end">
<text transform="translate(56.11,227.5) rotate(-45)">0.5h_a</text>
<text transform="translate(66.13,227.5) rotate(-45)">0.5h_b</text>
<text transform="translate(76.15,227.5) rotate(-45)">0.5h_c</text>
<text transform="translate(86.17,227.5) rotate(-45)">2h_a</text>
<text transform="translate(96.19,227.5) rotate(-45)">2h_b</text>
<text transform="translate(106.21,227.5) rotate(-45)">2h_c</text>
<text transform="translate(116.23,227.5) rotate(-45)">8h_a</text>
<text transform="translate(126.25,227.5) rotate(-45)">8h_b</text>
<text transform="translate(136.27,227.5) rotate(-45)">8h_c</text>
<text transform="translate(146.29,227.5) rotate(-45)">24h_a</text>
<text transform="translate(156.31,227.5) rotate(-45)">24h_b</text>
<text transform="translate(166.33,227.5) rotate(-45)">24h_c</text>
<text transform="translate(176.35,227.5) rotate(-45)">48h_a</text>
<text transform="translate(186.37,227.5) rotate(-45)">48h_b</text>
<text transform="translate(196.39,227.5) rotate(-45)">48h_c</text>
<text transform="translate(206.41,227.5) rotate(-45)">Control_a</text>
<text transform="translate(216.43,227.5) rotate(-45)">Control_b</text>
<text transform="translate(226.45,227.5) rotate(-45)">Control_c</text>
</g>
<text x="231.6" y="7.2" font-family="Liberation Serif" font-size="3.8" fill="#222">correlation coefficient</text>
<circle cx="234.5" cy="9.25" r="0.55" fill="#000"/>
<circle cx="234.5" cy="29" r="1.05" fill="#000"/>
<circle cx="234.5" cy="49" r="1.5" fill="#000"/>
<circle cx="234.5" cy="68.5" r="2.0" fill="#000"/>
<circle cx="234.5" cy="88.2" r="2.5" fill="#000"/>
<circle cx="234.5" cy="107.8" r="3.0" fill="#000"/>
<line x1="239.5" y1="9" x2="239.5" y2="108" stroke="#555" stroke-width="0.5"/>
<line x1="239.5" y1="14.4" x2="240.8" y2="14.4" stroke="#555" stroke-width="0.4"/>
<text x="241.6" y="15.7" font-family="Liberation Serif" font-size="3.6" fill="#333">0.70</text>
<line x1="239.5" y1="32.6" x2="240.8" y2="32.6" stroke="#555" stroke-width="0.4"/>
<text x="241.6" y="33.9" font-family="Liberation Serif" font-size="3.6" fill="#333">0.75</text>
<line x1="239.5" y1="50.8" x2="240.8" y2="50.8" stroke="#555" stroke-width="0.4"/>
<text x="241.6" y="52.1" font-family="Liberation Serif" font-size="3.6" fill="#333">0.80</text>
<line x1="239.5" y1="69.0" x2="240.8" y2="69.0" stroke="#555" stroke-width="0.4"/>
<text x="241.6" y="70.3" font-family="Liberation Serif" font-size="3.6" fill="#333">0.85</text>
<line x1="239.5" y1="87.2" x2="240.8" y2="87.2" stroke="#555" stroke-width="0.4"/>
<text x="241.6" y="88.5" font-family="Liberation Serif" font-size="3.6" fill="#333">0.90</text>
<line x1="239.5" y1="105.4" x2="240.8" y2="105.4" stroke="#555" stroke-width="0.4"/>
<text x="241.6" y="106.7" font-family="Liberation Serif" font-size="3.6" fill="#333">0.95</text>
<text x="231.6" y="117.6" font-family="Liberation Serif" font-size="3.8" fill="#222">correlation coefficient</text>
<defs><linearGradient id="cb" x1="0" y1="0" x2="0" y2="1"><stop offset="0" stop-color="#ff0000"/><stop offset="0.56" stop-color="#ffffff"/><stop offset="1" stop-color="#2020ff"/></linearGradient></defs>
<rect x="233" y="119" width="3.4" height="105" fill="url(#cb)"/>
<line x1="236.4" y1="125.7" x2="237.6" y2="125.7" stroke="#555" stroke-width="0.4"/>
<text x="238.6" y="127" font-family="Liberation Serif" font-size="3.6" fill="#333">0.94</text>
<line x1="236.4" y1="133.25" x2="237.6" y2="133.25" stroke="#555" stroke-width="0.4"/>
<text x="238.6" y="134.55" font-family="Liberation Serif" font-size="3.6" fill="#333">0.92</text>
<line x1="236.4" y1="140.8" x2="237.6" y2="140.8" stroke="#555" stroke-width="0.4"/>
<text x="238.6" y="142.1" font-family="Liberation Serif" font-size="3.6" fill="#333">0.90</text>
<line x1="236.4" y1="148.35" x2="237.6" y2="148.35" stroke="#555" stroke-width="0.4"/>
<text x="238.6" y="149.65" font-family="Liberation Serif" font-size="3.6" fill="#333">0.88</text>
<line x1="236.4" y1="155.9" x2="237.6" y2="155.9" stroke="#555" stroke-width="0.4"/>
<text x="238.6" y="157.2" font-family="Liberation Serif" font-size="3.6" fill="#333">0.86</text>
<line x1="236.4" y1="163.45" x2="237.6" y2="163.45" stroke="#555" stroke-width="0.4"/>
<text x="238.6" y="164.75" font-family="Liberation Serif" font-size="3.6" fill="#333">0.84</text>
<line x1="236.4" y1="171" x2="237.6" y2="171" stroke="#555" stroke-width="0.4"/>
<text x="238.6" y="172.3" font-family="Liberation Serif" font-size="3.6" fill="#333">0.82</text>
<line x1="236.4" y1="178.55" x2="237.6" y2="178.55" stroke="#555" stroke-width="0.4"/>
<text x="238.6" y="179.85" font-family="Liberation Serif" font-size="3.6" fill="#333">0.80</text>
<line x1="236.4" y1="186.1" x2="237.6" y2="186.1" stroke="#555" stroke-width="0.4"/>
<text x="238.6" y="187.4" font-family="Liberation Serif" font-size="3.6" fill="#333">0.78</text>
<line x1="236.4" y1="193.65" x2="237.6" y2="193.65" stroke="#555" stroke-width="0.4"/>
<text x="238.6" y="194.95" font-family="Liberation Serif" font-size="3.6" fill="#333">0.76</text>
<line x1="236.4" y1="201.2" x2="237.6" y2="201.2" stroke="#555" stroke-width="0.4"/>
<text x="238.6" y="202.5" font-family="Liberation Serif" font-size="3.6" fill="#333">0.74</text>
<line x1="236.4" y1="208.75" x2="237.6" y2="208.75" stroke="#555" stroke-width="0.4"/>
<text x="238.6" y="210.05" font-family="Liberation Serif" font-size="3.6" fill="#333">0.72</text>
<line x1="236.4" y1="216.3" x2="237.6" y2="216.3" stroke="#555" stroke-width="0.4"/>
<text x="238.6" y="217.6" font-family="Liberation Serif" font-size="3.6" fill="#333">0.70</text>
</g>
<g id="B">
<text x="288" y="19.8" font-family="Liberation Serif" font-size="16.6" fill="#111">B</text>
<path d="M458.5 9.85V21.48M458.5 9.85H488M458.5 21.48H488M448.7 15.67V33.12M448.7 15.67H458.5M448.7 33.12H488M458.3 44.76V56.39M458.3 44.76H488M458.3 56.39H488M451.6 50.57V68.02M451.6 50.57H458.3M451.6 68.02H488M438.6 24.39V59.3M438.6 24.39H448.7M438.6 59.3H451.6M452.7 79.66V91.29M452.7 79.66H488M452.7 91.29H488M446.7 85.48V102.93M446.7 85.48H452.7M446.7 102.93H488M419.6 41.85V94.2M419.6 41.85H438.6M419.6 94.2H446.7M457.5 114.56V126.2M457.5 114.56H488M457.5 126.2H488M453.6 120.38V137.84M453.6 120.38H457.5M453.6 137.84H488M412.2 68.02V129.11M412.2 68.02H419.6M412.2 129.11H453.6M449.5 149.47V161.1M449.5 149.47H488M449.5 161.1H488M435.8 155.29V172.74M435.8 155.29H449.5M435.8 172.74H488M376.3 98.57V164.01M376.3 98.57H412.2M376.3 164.01H435.8M446.7 184.38V196.01M446.7 184.38H488M446.7 196.01H488M444.2 190.19V207.64M444.2 190.19H446.7M444.2 207.64H488M318.3 131.29V198.92M318.3 131.29H376.3M318.3 198.92H444.2" stroke="#9a9a9a" stroke-width="0.8" fill="none"/>
<g font-family="Liberation Sans" font-style="italic" font-size="5.3">
<text x="488.8" y="11.85" fill="#ff00ff">0.5h b</text>
<text x="488.8" y="23.48" fill="#ff00ff">0.5h a</text>
<text x="488.8" y="35.12" fill="#ff00ff">0.5h c</text>
<text x="488.8" y="46.76" fill="#ff00ff">2h c</text>
<text x="488.8" y="58.39" fill="#ff00ff">2h b</text>
<text x="488.8" y="70.02" fill="#ff00ff">2h a</text>
<text x="488.8" y="81.66" fill="#80ee20">8h b</text>
<text x="488.8" y="93.29" fill="#80ee20">8h a</text>
<text x="488.8" y="104.93" fill="#80ee20">8h c</text>
<text x="488.8" y="116.56" fill="#ff3050">24h c</text>
<text x="488.8" y="128.2" fill="#ff3050">24h a</text>
<text x="488.8" y="139.84" fill="#ff3050">24h b</text>
<text x="488.8" y="151.47" fill="#4b3fa8">48h c</text>
<text x="488.8" y="163.1" fill="#4b3fa8">48h b</text>
<text x="488.8" y="174.74" fill="#4b3fa8">48h a</text>
<text x="488.8" y="186.38" fill="#a020f0">Control c</text>
<text x="488.8" y="198.01" fill="#a020f0">Control b</text>
<text x="488.8" y="209.64" fill="#a020f0">Control a</text>
</g>
</g>
<text x="2.6" y="260.5" font-family="Liberation Serif" font-size="17.1" fill="#111">C</text>
<g id="C">
<rect x="45.4" y="253.6" width="217.4" height="103.7" fill="none" stroke="#8a8a8a" stroke-width="0.8"/>
<g font-family="Liberation Serif" font-size="3.6" fill="#111">
<line x1="43.8" y1="272.5" x2="45.4" y2="272.5" stroke="#8a8a8a" stroke-width="0.6"/>
<text x="43" y="273.7" text-anchor="end">0.2</text>
<line x1="43.8" y1="299.7" x2="45.4" y2="299.7" stroke="#8a8a8a" stroke-width="0.6"/>
<text x="43" y="300.9" text-anchor="end">0.0</text>
<line x1="43.8" y1="326.9" x2="45.4" y2="326.9" stroke="#8a8a8a" stroke-width="0.6"/>
<text x="43" y="328.1" text-anchor="end">-0.2</text>
<line x1="43.8" y1="354.1" x2="45.4" y2="354.1" stroke="#8a8a8a" stroke-width="0.6"/>
<text x="43" y="355.3" text-anchor="end">-0.4</text>
<line x1="74.15" y1="357.3" x2="74.15" y2="358.9" stroke="#8a8a8a" stroke-width="0.6"/>
<text x="74.15" y="362.5" text-anchor="middle">2</text>
<line x1="104.7" y1="357.3" x2="104.7" y2="358.9" stroke="#8a8a8a" stroke-width="0.6"/>
<text x="104.7" y="362.5" text-anchor="middle">3</text>
<line x1="135.25" y1="357.3" x2="135.25" y2="358.9" stroke="#8a8a8a" stroke-width="0.6"/>
<text x="135.25" y="362.5" text-anchor="middle">4</text>
<line x1="165.8" y1="357.3" x2="165.8" y2="358.9" stroke="#8a8a8a" stroke-width="0.6"/>
<text x="165.8" y="362.5" text-anchor="middle">5</text>
<line x1="196.35" y1="357.3" x2="196.35" y2="358.9" stroke="#8a8a8a" stroke-width="0.6"/>
<text x="196.35" y="362.5" text-anchor="middle">6</text>
<line x1="226.9" y1="357.3" x2="226.9" y2="358.9" stroke="#8a8a8a" stroke-width="0.6"/>
<text x="226.9" y="362.5" text-anchor="middle">7</text>
<text x="154" y="367.6" text-anchor="middle" font-size="4.1">-log(lambda)</text>
<text transform="translate(33.1,305.45) rotate(-90)" text-anchor="middle" font-size="3.7">Coefficients</text>
</g>
<line x1="76.3" y1="253.6" x2="76.3" y2="357.3" stroke="#ffb0b0" stroke-width="0.6"/>
<text x="76.5" y="257.6" font-family="Liberation Serif" font-size="3.4" fill="#333" text-anchor="middle">λ=0.23</text>
<path d="M45.8 299.7 C53.17 299.73 74.3 299.93 90 299.9 C105.7 299.87 121.67 299.98 140 299.5 C158.33 299.02 182.88 297.68 200 297 C217.12 296.32 235.58 295.67 242.7 295.4" stroke="#f0b0e8" stroke-width="0.7" fill="none" stroke-opacity="1.0" stroke-linejoin="round" stroke-linecap="round"/>
<path d="M45.8 299.7 C61.5 299.7 107.18 299.73 140 299.7 C172.82 299.67 225.58 299.53 242.7 299.5" stroke="#c8f0b0" stroke-width="0.7" fill="none" stroke-opacity="1.0" stroke-linejoin="round" stroke-linecap="round"/>
<path d="M45.8 299.7 C52.17 299.73 73.3 299.27 84 299.9 C94.7 300.53 100.67 302.48 110 303.5 C119.33 304.52 125 305.58 140 306 C155 306.42 182.88 306 200 306 C217.12 306 235.58 306 242.7 306" stroke="#b8c0f8" stroke-width="0.7" fill="none" stroke-opacity="1.0" stroke-linejoin="round" stroke-linecap="round"/>
<path d="M45.8 299.7 C54.83 299.83 84.3 299.98 100 300.5 C115.7 301.02 123.33 301.8 140 302.8 C156.67 303.8 182.88 305.4 200 306.5 C217.12 307.6 235.58 308.92 242.7 309.4" stroke="#c4a8ec" stroke-width="0.7" fill="none" stroke-opacity="1.0" stroke-linejoin="round" stroke-linecap="round"/>
<path d="M45.8 299.7 C51.5 299.78 70.97 299.15 80 300.2 C89.03 301.25 90 303.7 100 306 C110 308.3 123.33 311.33 140 314 C156.67 316.67 182.88 319.83 200 322 C217.12 324.17 235.58 326.17 242.7 327" stroke="#a8f0c8" stroke-width="0.7" fill="none" stroke-opacity="1.0" stroke-linejoin="round" stroke-linecap="round"/>
<path d="M45.8 299.7 C48.33 298.85 55.92 296.08 61 294.6 C66.08 293.12 69.5 292.5 76.3 290.8 C83.1 289.1 92.85 286.22 101.8 284.4 C110.75 282.58 121.07 281.72 130 279.9 C138.93 278.08 146.92 275.5 155.4 273.5 C163.88 271.5 172.42 269.9 180.9 267.9 C189.38 265.9 196 263.92 206.3 261.5 C216.6 259.08 236.63 254.75 242.7 253.4" stroke="#f55a5a" stroke-width="1.2" fill="none" stroke-opacity="1.0" stroke-linejoin="round" stroke-linecap="round"/>
<path d="M45.8 299.7 C48.33 299.62 55.92 299.65 61 299.2 C66.08 298.75 69.5 297.93 76.3 297 C83.1 296.07 92.85 294.53 101.8 293.6 C110.75 292.67 121.07 292.07 130 291.4 C138.93 290.73 146.92 290.02 155.4 289.6 C163.88 289.18 169.02 289.03 180.9 288.9 C192.78 288.77 216.4 288.78 226.7 288.8 C237 288.82 240.03 288.97 242.7 289" stroke="#f5a028" stroke-width="1.2" fill="none" stroke-opacity="1.0" stroke-linejoin="round" stroke-linecap="round"/>
<path d="M45.8 299.7 C46.65 300.55 47.93 302.8 50.9 304.8 C53.87 306.8 59.37 309.8 63.6 311.7 C67.83 313.6 72.9 315.1 76.3 316.2 C79.7 317.3 80.6 317.78 84 318.3 C87.4 318.82 91.62 318.72 96.7 319.3 C101.78 319.88 108.95 321.03 114.5 321.8 C120.05 322.57 123.18 322.28 130 323.9 C136.82 325.52 146.92 328.97 155.4 331.5 C163.88 334.03 172.42 336.55 180.9 339.1 C189.38 341.65 196 343.95 206.3 346.8 C216.6 349.65 236.63 354.63 242.7 356.2" stroke="#22c4c8" stroke-width="1.2" fill="none" stroke-opacity="1.0" stroke-linejoin="round" stroke-linecap="round"/>
<line x1="225.4" y1="257.25" x2="243.7" y2="265.4" stroke="#f08080" stroke-width="0.5"/>
<line x1="225.4" y1="288.8" x2="243.7" y2="270.6" stroke="#f5b060" stroke-width="0.5"/>
<line x1="225.4" y1="349.8" x2="243.7" y2="275.5" stroke="#40d0d8" stroke-width="0.5"/>
<rect x="243.7" y="260.85" width="15.51" height="5.7" rx="0.7" fill="#fff" stroke="#f08898" stroke-width="0.6"/>
<text x="244.7" y="265.05" font-family="Liberation Serif" font-size="3.8" fill="#1a1a1a">PIK3DD</text>
<rect x="243.7" y="266.95" width="15.51" height="5.7" rx="0.7" fill="#fff" stroke="#f5b040" stroke-width="0.6"/>
<text x="244.7" y="271.15" font-family="Liberation Serif" font-size="3.8" fill="#1a1a1a">NLRP12</text>
<rect x="243.7" y="273.15" width="9.81" height="5.7" rx="0.7" fill="#fff" stroke="#40c8d0" stroke-width="0.6"/>
<text x="244.7" y="277.35" font-family="Liberation Serif" font-size="3.8" fill="#1a1a1a">GAL</text>
</g>
<g id="Cb">
<rect x="44.6" y="370.6" width="216" height="66.2" fill="none" stroke="#8a8a8a" stroke-width="0.8"/>
<g font-family="Liberation Serif" font-size="3.6" fill="#111">
<line x1="43" y1="375.6" x2="44.6" y2="375.6" stroke="#8a8a8a" stroke-width="0.6"/>
<text x="42.2" y="376.8" text-anchor="end">2.0</text>
<line x1="43" y1="390.3" x2="44.6" y2="390.3" stroke="#8a8a8a" stroke-width="0.6"/>
<text x="42.2" y="391.5" text-anchor="end">1.5</text>
<line x1="43" y1="405" x2="44.6" y2="405" stroke="#8a8a8a" stroke-width="0.6"/>
<text x="42.2" y="406.2" text-anchor="end">1.0</text>
<line x1="43" y1="419.8" x2="44.6" y2="419.8" stroke="#8a8a8a" stroke-width="0.6"/>
<text x="42.2" y="421" text-anchor="end">0.5</text>
<line x1="43" y1="434.5" x2="44.6" y2="434.5" stroke="#8a8a8a" stroke-width="0.6"/>
<text x="42.2" y="435.7" text-anchor="end">0.0</text>
<line x1="67.1" y1="436.8" x2="67.1" y2="438.4" stroke="#8a8a8a" stroke-width="0.6"/>
<text x="67.1" y="442" text-anchor="middle">-7</text>
<line x1="99" y1="436.8" x2="99" y2="438.4" stroke="#8a8a8a" stroke-width="0.6"/>
<text x="99" y="442" text-anchor="middle">-6</text>
<line x1="130.9" y1="436.8" x2="130.9" y2="438.4" stroke="#8a8a8a" stroke-width="0.6"/>
<text x="130.9" y="442" text-anchor="middle">-5</text>
<line x1="162.8" y1="436.8" x2="162.8" y2="438.4" stroke="#8a8a8a" stroke-width="0.6"/>
<text x="162.8" y="442" text-anchor="middle">-4</text>
<line x1="194.7" y1="436.8" x2="194.7" y2="438.4" stroke="#8a8a8a" stroke-width="0.6"/>
<text x="194.7" y="442" text-anchor="middle">-3</text>
<line x1="226.6" y1="436.8" x2="226.6" y2="438.4" stroke="#8a8a8a" stroke-width="0.6"/>
<text x="226.6" y="442" text-anchor="middle">-2</text>
<line x1="258.5" y1="436.8" x2="258.5" y2="438.4" stroke="#8a8a8a" stroke-width="0.6"/>
<text x="258.5" y="442" text-anchor="middle">-1</text>
<text x="153" y="447.1" text-anchor="middle" font-size="4.1">log(lambda)</text>
<text transform="translate(34.3,403.7) rotate(-90)" text-anchor="middle" font-size="3.7">Partial Likelihood Deviance</text>
</g>
<path d="M49.8 375.9V421.5M51.88 375.98V421.5M53.96 376.06V421.5M56.04 376.14V421.5M58.12 376.21V421.5M60.19 376.29V421.5M62.27 376.37V421.5M64.35 376.45V421.5M66.43 376.53V421.5M68.51 376.61V421.5M70.59 376.68V421.5M72.67 376.76V421.5M74.75 376.84V421.5M76.82 376.92V421.5M78.9 377V421.5M80.98 377.08V421.5M83.06 377.15V421.5M85.14 377.23V421.5M87.22 377.31V421.5M89.3 377.39V421.5M91.38 377.47V421.5M93.45 377.55V421.5M95.53 377.62V421.5M97.61 377.7V421.5M99.69 377.78V421.5M101.77 377.86V421.5M103.85 377.94V421.5M105.93 378.07V421.5M108.01 378.39V421.5M110.08 378.72V421.5M112.16 379.04V421.5M114.24 379.36V421.5M116.32 379.69V421.5M118.4 380.01V421.5M120.48 380.34V421.5M122.56 380.66V421.5M124.64 380.98V421.5M126.72 381.31V421.5M128.79 381.63V421.5M130.87 381.95V421.5M132.95 382.27V421.5M135.03 382.59V421.5M137.11 382.91V421.5M139.19 383.23V421.5M141.27 383.55V421.5M143.35 383.87V421.5M145.42 384.19V421.5M147.5 384.52V421.5M149.58 384.84V421.5M151.66 385.39V421.5M153.74 386V421.5M155.82 386.62V421.5M157.9 387.23V421.5M159.98 387.85V421.5M162.05 388.46V421.5M164.13 389.08V421.5M166.21 389.7V421.5M168.29 390.32V421.5M170.37 390.94V421.5M172.45 391.72V421.5M174.53 392.55V421.5M176.61 393.38V421.5M178.68 394.21V421.5M180.76 395.05V421.5M182.84 395.59V421.5M184.92 396.01V421.5M187 396.43V421.5M189.08 396.85V421.5M191.16 397.27V421.5M193.24 397.55V421.5M195.32 397.77V421.5M197.39 397.99V421.5M199.47 398.2V421.5M201.55 398.42V422.17M203.63 398.5V422.77M205.71 398.5V423.19M207.79 398.5V423.61M209.87 398.5V424.03M211.95 398.5V424.45M214.02 398.1V424.99M216.1 397.46V425.6M218.18 396.83V426.22M220.26 396.2V426.83M222.34 395.56V427.45M224.42 394.81V427.95M226.5 393.97V428.37M228.58 393.13V428.79M230.65 392.29V429.21M232.73 391.45V429.62M234.81 390.74V429.93M236.89 390.13V430.14M238.97 389.51V430.36M241.05 388.9V430.58M243.13 388.29V430.8M245.21 387.9V430.96M247.28 387.72V431.07M249.36 387.54V431.17M251.44 387.36V431.28M253.52 387.18V431.39M255.6 387V431.5" stroke="#2a2a2a" stroke-width="0.5" fill="none"/>
<line x1="223.4" y1="370.6" x2="223.4" y2="436.8" stroke="#ffb0b0" stroke-width="0.6"/>
<text x="223.4" y="374.6" font-family="Liberation Serif" font-size="3.4" fill="#333" text-anchor="middle">λ=0.23</text>
<g fill="#ff2020"><circle cx="49.8" cy="398.8" r="0.75"/><circle cx="51.88" cy="398.82" r="0.75"/><circle cx="53.96" cy="398.84" r="0.75"/><circle cx="56.04" cy="398.86" r="0.75"/><circle cx="58.12" cy="398.88" r="0.75"/><circle cx="60.19" cy="398.9" r="0.75"/><circle cx="62.27" cy="398.92" r="0.75"/><circle cx="64.35" cy="398.94" r="0.75"/><circle cx="66.43" cy="398.97" r="0.75"/><circle cx="68.51" cy="398.99" r="0.75"/><circle cx="70.59" cy="399.01" r="0.75"/><circle cx="72.67" cy="399.03" r="0.75"/><circle cx="74.75" cy="399.05" r="0.75"/><circle cx="76.82" cy="399.07" r="0.75"/><circle cx="78.9" cy="399.09" r="0.75"/><circle cx="80.98" cy="399.11" r="0.75"/><circle cx="83.06" cy="399.13" r="0.75"/><circle cx="85.14" cy="399.15" r="0.75"/><circle cx="87.22" cy="399.17" r="0.75"/><circle cx="89.3" cy="399.19" r="0.75"/><circle cx="91.38" cy="399.21" r="0.75"/><circle cx="93.45" cy="399.23" r="0.75"/><circle cx="95.53" cy="399.26" r="0.75"/><circle cx="97.61" cy="399.28" r="0.75"/><circle cx="99.69" cy="399.3" r="0.75"/><circle cx="101.77" cy="399.38" r="0.75"/><circle cx="103.85" cy="399.48" r="0.75"/><circle cx="105.93" cy="399.58" r="0.75"/><circle cx="108.01" cy="399.68" r="0.75"/><circle cx="110.08" cy="399.78" r="0.75"/><circle cx="112.16" cy="399.88" r="0.75"/><circle cx="114.24" cy="399.98" r="0.75"/><circle cx="116.32" cy="400.08" r="0.75"/><circle cx="118.4" cy="400.18" r="0.75"/><circle cx="120.48" cy="400.28" r="0.75"/><circle cx="122.56" cy="400.37" r="0.75"/><circle cx="124.64" cy="400.47" r="0.75"/><circle cx="126.72" cy="400.57" r="0.75"/><circle cx="128.79" cy="400.71" r="0.75"/><circle cx="130.87" cy="400.87" r="0.75"/><circle cx="132.95" cy="401.02" r="0.75"/><circle cx="135.03" cy="401.18" r="0.75"/><circle cx="137.11" cy="401.33" r="0.75"/><circle cx="139.19" cy="401.49" r="0.75"/><circle cx="141.27" cy="401.65" r="0.75"/><circle cx="143.35" cy="401.8" r="0.75"/><circle cx="145.42" cy="401.96" r="0.75"/><circle cx="147.5" cy="402.11" r="0.75"/><circle cx="149.58" cy="402.27" r="0.75"/><circle cx="151.66" cy="402.47" r="0.75"/><circle cx="153.74" cy="402.67" r="0.75"/><circle cx="155.82" cy="403.05" r="0.75"/><circle cx="157.9" cy="403.7" r="0.75"/><circle cx="159.98" cy="404.34" r="0.75"/><circle cx="162.05" cy="404.99" r="0.75"/><circle cx="164.13" cy="405.63" r="0.75"/><circle cx="166.21" cy="406.12" r="0.75"/><circle cx="168.29" cy="406.49" r="0.75"/><circle cx="170.37" cy="406.87" r="0.75"/><circle cx="172.45" cy="407.24" r="0.75"/><circle cx="174.53" cy="407.61" r="0.75"/><circle cx="176.61" cy="407.86" r="0.75"/><circle cx="178.68" cy="408.07" r="0.75"/><circle cx="180.76" cy="408.28" r="0.75"/><circle cx="182.84" cy="408.48" r="0.75"/><circle cx="184.92" cy="408.69" r="0.75"/><circle cx="187" cy="408.9" r="0.75"/><circle cx="189.08" cy="409.11" r="0.75"/><circle cx="191.16" cy="409.29" r="0.75"/><circle cx="193.24" cy="409.46" r="0.75"/><circle cx="195.32" cy="409.63" r="0.75"/><circle cx="197.39" cy="409.79" r="0.75"/><circle cx="199.47" cy="409.96" r="0.75"/><circle cx="201.55" cy="410.17" r="0.75"/><circle cx="203.63" cy="410.4" r="0.75"/><circle cx="205.71" cy="410.63" r="0.75"/><circle cx="207.79" cy="410.86" r="0.75"/><circle cx="209.87" cy="411.09" r="0.75"/><circle cx="211.95" cy="411.32" r="0.75"/><circle cx="214.02" cy="411.48" r="0.75"/><circle cx="216.1" cy="411.59" r="0.75"/><circle cx="218.18" cy="411.71" r="0.75"/><circle cx="220.26" cy="411.83" r="0.75"/><circle cx="222.34" cy="411.95" r="0.75"/><circle cx="224.42" cy="411.93" r="0.75"/><circle cx="226.5" cy="411.81" r="0.75"/><circle cx="228.58" cy="411.69" r="0.75"/><circle cx="230.65" cy="411.57" r="0.75"/><circle cx="232.73" cy="411.45" r="0.75"/><circle cx="234.81" cy="411.28" r="0.75"/><circle cx="236.89" cy="411.09" r="0.75"/><circle cx="238.97" cy="410.89" r="0.75"/><circle cx="241.05" cy="410.69" r="0.75"/><circle cx="243.13" cy="410.49" r="0.75"/><circle cx="245.21" cy="410.2" r="0.75"/><circle cx="247.28" cy="409.82" r="0.75"/><circle cx="249.36" cy="409.44" r="0.75"/><circle cx="251.44" cy="409.06" r="0.75"/><circle cx="253.52" cy="408.68" r="0.75"/><circle cx="255.6" cy="408.3" r="0.75"/></g>
</g>
<text x="287.2" y="260.5" font-family="Liberation Serif" font-size="17.1" fill="#111">D</text>
<g id="D">
<rect x="326.2" y="253.5" width="217.2" height="103.1" fill="none" stroke="#8a8a8a" stroke-width="0.8"/>
<g font-family="Liberation Serif" font-size="3.6" fill="#111">
<line x1="324.6" y1="264.95" x2="326.2" y2="264.95" stroke="#8a8a8a" stroke-width="0.6"/>
<text x="323.8" y="266.15" text-anchor="end">0.1</text>
<line x1="324.6" y1="282.3" x2="326.2" y2="282.3" stroke="#8a8a8a" stroke-width="0.6"/>
<text x="323.8" y="283.5" text-anchor="end">0.0</text>
<line x1="324.6" y1="299.65" x2="326.2" y2="299.65" stroke="#8a8a8a" stroke-width="0.6"/>
<text x="323.8" y="300.85" text-anchor="end">-0.1</text>
<line x1="324.6" y1="317" x2="326.2" y2="317" stroke="#8a8a8a" stroke-width="0.6"/>
<text x="323.8" y="318.2" text-anchor="end">-0.2</text>
<line x1="324.6" y1="334.35" x2="326.2" y2="334.35" stroke="#8a8a8a" stroke-width="0.6"/>
<text x="323.8" y="335.55" text-anchor="end">-0.3</text>
<line x1="324.6" y1="351.7" x2="326.2" y2="351.7" stroke="#8a8a8a" stroke-width="0.6"/>
<text x="323.8" y="352.9" text-anchor="end">-0.4</text>
<line x1="355.55" y1="356.6" x2="355.55" y2="358.2" stroke="#8a8a8a" stroke-width="0.6"/>
<text x="355.55" y="361.8" text-anchor="middle">2</text>
<line x1="384.9" y1="356.6" x2="384.9" y2="358.2" stroke="#8a8a8a" stroke-width="0.6"/>
<text x="384.9" y="361.8" text-anchor="middle">3</text>
<line x1="414.25" y1="356.6" x2="414.25" y2="358.2" stroke="#8a8a8a" stroke-width="0.6"/>
<text x="414.25" y="361.8" text-anchor="middle">4</text>
<line x1="443.6" y1="356.6" x2="443.6" y2="358.2" stroke="#8a8a8a" stroke-width="0.6"/>
<text x="443.6" y="361.8" text-anchor="middle">5</text>
<line x1="472.95" y1="356.6" x2="472.95" y2="358.2" stroke="#8a8a8a" stroke-width="0.6"/>
<text x="472.95" y="361.8" text-anchor="middle">6</text>
<line x1="502.3" y1="356.6" x2="502.3" y2="358.2" stroke="#8a8a8a" stroke-width="0.6"/>
<text x="502.3" y="361.8" text-anchor="middle">7</text>
<text x="433" y="366.9" text-anchor="middle" font-size="4.1">-log(lambda)</text>
<text transform="translate(314.5,305.05) rotate(-90)" text-anchor="middle" font-size="3.7">Coefficients</text>
</g>
<path d="M455 282.3 C459.17 282.45 471.13 282.81 480 283.18 C488.87 283.55 503.5 284.28 508.2 284.5" stroke="#20c0d0" stroke-width="0.7" fill="none" stroke-opacity="1.0" stroke-linejoin="round" stroke-linecap="round"/>
<path d="M455 282.3 C459.17 282.56 471.13 283.21 480 283.86 C488.87 284.51 503.5 285.81 508.2 286.2" stroke="#40d8c0" stroke-width="0.7" fill="none" stroke-opacity="1.0" stroke-linejoin="round" stroke-linecap="round"/>
<path d="M455 282.3 C459.17 282.37 471.13 282.56 480 282.74 C488.87 282.92 503.5 283.29 508.2 283.4" stroke="#30b0e8" stroke-width="0.7" fill="none" stroke-opacity="1.0" stroke-linejoin="round" stroke-linecap="round"/>
<path d="M455 282.3 C459.17 282.48 471.13 282.93 480 283.38 C488.87 283.83 503.5 284.73 508.2 285" stroke="#66dd88" stroke-width="0.7" fill="none" stroke-opacity="1.0" stroke-linejoin="round" stroke-linecap="round"/>
<path d="M455 282.3 C459.17 282.23 471.13 282.04 480 281.86 C488.87 281.68 503.5 281.31 508.2 281.2" stroke="#e070c8" stroke-width="0.7" fill="none" stroke-opacity="1.0" stroke-linejoin="round" stroke-linecap="round"/>
<line x1="326.2" y1="282.3" x2="508.2" y2="282.3" stroke="#3b6fe6" stroke-width="1.3"/>
<path d="M378.2 282.3 C381 281.75 389.7 280.75 395 279 C400.3 277.25 404.47 274.37 410 271.8 C415.53 269.23 422.13 265.87 428.2 263.6 C434.27 261.33 440.35 259.62 446.4 258.2 C452.45 256.78 458.45 255.83 464.5 255.1 C470.55 254.37 475.42 254.05 482.7 253.8 C489.98 253.55 503.95 253.63 508.2 253.6" stroke="#9de050" stroke-width="1.25" fill="none" stroke-opacity="1.0" stroke-linejoin="round" stroke-linecap="round"/>
<path d="M387.3 282.3 C389.42 281.83 396.22 280.18 400 279.5 C403.78 278.82 405.3 279.18 410 278.2 C414.7 277.22 422.13 275.12 428.2 273.6 C434.27 272.08 440.35 270.45 446.4 269.1 C452.45 267.75 458.45 266.57 464.5 265.5 C470.55 264.43 475.42 263.68 482.7 262.7 C489.98 261.72 503.95 260.12 508.2 259.6" stroke="#3f66e6" stroke-width="1.25" fill="none" stroke-opacity="1.0" stroke-linejoin="round" stroke-linecap="round"/>
<path d="M419.1 282.3 C420.62 281.47 425.17 278.9 428.2 277.3 C431.23 275.7 434.27 273.85 437.3 272.7 C440.33 271.55 443.37 270.92 446.4 270.4 C449.43 269.88 452.48 269.67 455.5 269.6 C458.52 269.53 461.48 269.78 464.5 270 C467.52 270.22 470.57 270.6 473.6 270.9 C476.63 271.2 479.67 271.4 482.7 271.8 C485.73 272.2 487.55 272.68 491.8 273.3 C496.05 273.92 505.47 275.13 508.2 275.5" stroke="#f06070" stroke-width="1.25" fill="none" stroke-opacity="1.0" stroke-linejoin="round" stroke-linecap="round"/>
<path d="M440.9 282.3 C443.33 281.47 450.05 279.35 455.5 277.3 C460.95 275.25 467.55 272.28 473.6 270 C479.65 267.72 486.03 265.57 491.8 263.6 C497.57 261.63 505.47 259.1 508.2 258.2" stroke="#9a35cf" stroke-width="1.25" fill="none" stroke-opacity="1.0" stroke-linejoin="round" stroke-linecap="round"/>
<path d="M446.4 282.3 C450.93 281.83 466.03 280.33 473.6 279.5 C481.17 278.67 486.03 277.82 491.8 277.3 C497.57 276.78 505.47 276.55 508.2 276.4" stroke="#cc44cc" stroke-width="1.25" fill="none" stroke-opacity="1.0" stroke-linejoin="round" stroke-linecap="round"/>
<path d="M398.9 282.3 C402.42 282.85 412.08 284.38 420 285.6 C427.92 286.82 438.07 288.43 446.4 289.6 C454.73 290.77 462.57 291.68 470 292.6 C477.43 293.52 484.63 294.47 491 295.1 C497.37 295.73 505.33 296.18 508.2 296.4" stroke="#f08838" stroke-width="1.25" fill="none" stroke-opacity="1.0" stroke-linejoin="round" stroke-linecap="round"/>
<path d="M384.7 282.3 C388.92 283 399.72 284.72 410 286.5 C420.28 288.28 436.4 291.15 446.4 293 C456.4 294.85 462.57 296.07 470 297.6 C477.43 299.13 484.63 301.05 491 302.2 C497.37 303.35 505.33 304.12 508.2 304.5" stroke="#e8a838" stroke-width="1.25" fill="none" stroke-opacity="1.0" stroke-linejoin="round" stroke-linecap="round"/>
<path d="M326.4 282.3 C327.15 283.82 329.23 288.53 330.9 291.4 C332.57 294.27 334.28 297.08 336.4 299.5 C338.52 301.92 340.58 303.92 343.6 305.9 C346.62 307.88 350.25 309.28 354.5 311.4 C358.75 313.52 364.85 316.63 369.1 318.6 C373.35 320.57 376.07 321.68 380 323.2 C383.93 324.72 388.45 326.48 392.7 327.7 C396.95 328.92 400.95 329.65 405.5 330.5 C410.05 331.35 413.18 332.03 420 332.8 C426.82 333.57 438.98 334.6 446.4 335.1 C453.82 335.6 454.2 335.58 464.5 335.8 C474.8 336.02 500.92 336.3 508.2 336.4" stroke="#2aa8e0" stroke-width="1.25" fill="none" stroke-opacity="1.0" stroke-linejoin="round" stroke-linecap="round"/>
<path d="M336.4 282.3 C337.6 283.35 341.18 286.48 343.6 288.6 C346.02 290.72 348.17 292.42 350.9 295 C353.63 297.58 356.67 301.07 360 304.1 C363.33 307.13 366.97 310.32 370.9 313.2 C374.83 316.08 379.35 318.98 383.6 321.4 C387.85 323.82 392.45 326.03 396.4 327.7 C400.35 329.37 403.37 330.33 407.3 331.4 C411.23 332.47 416.52 333.27 420 334.1 C423.48 334.93 423.8 335.27 428.2 336.4 C432.6 337.53 440.35 339.38 446.4 340.9 C452.45 342.42 458.45 344.35 464.5 345.5 C470.55 346.65 475.42 346.97 482.7 347.8 C489.98 348.63 503.95 350.05 508.2 350.5" stroke="#7b3fcf" stroke-width="1.25" fill="none" stroke-opacity="1.0" stroke-linejoin="round" stroke-linecap="round"/>
<path d="M340.9 282.3 C341.97 283.82 344.72 287.77 347.3 291.4 C349.88 295.03 353.07 300.02 356.4 304.1 C359.73 308.18 363.67 311.97 367.3 315.9 C370.93 319.83 374.57 323.92 378.2 327.7 C381.83 331.48 385.47 335.42 389.1 338.6 C392.73 341.78 396.37 344.67 400 346.8 C403.63 348.93 407.57 350.15 410.9 351.4 C414.23 352.65 417.12 353.58 420 354.3 C422.88 355.02 425.32 355.35 428.2 355.7 C431.08 356.05 434.27 356.38 437.3 356.4 C440.33 356.42 443.37 356.42 446.4 355.8 C449.43 355.18 452.48 354.12 455.5 352.7 C458.52 351.28 461.48 348.97 464.5 347.3 C467.52 345.63 470.57 344.22 473.6 342.7 C476.63 341.18 479.67 339.72 482.7 338.2 C485.73 336.68 487.55 335.57 491.8 333.6 C496.05 331.63 505.47 327.6 508.2 326.4" stroke="#2ad8a0" stroke-width="1.25" fill="none" stroke-opacity="1.0" stroke-linejoin="round" stroke-linecap="round"/>
<line x1="508.2" y1="253.5" x2="508.2" y2="356.6" stroke="#ff9a9a" stroke-width="0.5"/>
<text x="502" y="257.2" font-family="Liberation Serif" font-size="3.8" fill="#222">λ=6.4×10<tspan dy="-1.4" font-size="2.7">-3</tspan></text>
<line x1="492" y1="259.6" x2="508.8" y2="263.6" stroke="#a0e060" stroke-width="0.45"/>
<line x1="492" y1="253.6" x2="508.8" y2="270" stroke="#8080e0" stroke-width="0.45"/>
<line x1="492" y1="275.5" x2="508.8" y2="276.3" stroke="#f07090" stroke-width="0.45"/>
<line x1="492" y1="282.3" x2="508.8" y2="282.6" stroke="#40b0e0" stroke-width="0.45"/>
<line x1="492" y1="276.4" x2="508.8" y2="288.9" stroke="#e060c8" stroke-width="0.45"/>
<line x1="492" y1="285" x2="508.8" y2="295.1" stroke="#e060c8" stroke-width="0.45"/>
<line x1="492" y1="296.4" x2="508.8" y2="301.4" stroke="#f0a040" stroke-width="0.45"/>
<line x1="492" y1="282.3" x2="508.8" y2="307.6" stroke="#80e080" stroke-width="0.45"/>
<line x1="492" y1="285" x2="508.8" y2="313.9" stroke="#80e060" stroke-width="0.45"/>
<line x1="492" y1="304.5" x2="508.8" y2="320.2" stroke="#40d0c0" stroke-width="0.45"/>
<line x1="492" y1="326.4" x2="508.8" y2="326.5" stroke="#40c8d0" stroke-width="0.45"/>
<line x1="492" y1="336.4" x2="508.8" y2="332.8" stroke="#60a0f0" stroke-width="0.45"/>
<line x1="492" y1="296.4" x2="508.8" y2="339.1" stroke="#f0a040" stroke-width="0.45"/>
<line x1="492" y1="350.5" x2="508.8" y2="345.4" stroke="#f0a040" stroke-width="0.45"/>
<line x1="492" y1="283.4" x2="524" y2="263.6" stroke="#40d0d0" stroke-width="0.45"/>
<line x1="492" y1="258.2" x2="524" y2="270.4" stroke="#c060d0" stroke-width="0.45"/>
<line x1="492" y1="284.5" x2="524" y2="277.1" stroke="#40b0e0" stroke-width="0.45"/>
<rect x="508.8" y="260.75" width="14.45" height="5.7" rx="0.7" fill="#fff" stroke="#a0e060" stroke-width="0.6"/>
<text x="509.8" y="264.95" font-family="Liberation Serif" font-size="3.8" fill="#1a1a1a">ALDH2</text>
<rect x="508.8" y="267.15" width="13.61" height="5.7" rx="0.7" fill="#fff" stroke="#8080e0" stroke-width="0.6"/>
<text x="509.8" y="271.35" font-family="Liberation Serif" font-size="3.8" fill="#1a1a1a">ELOT2</text>
<rect x="508.8" y="273.45" width="13.19" height="5.7" rx="0.7" fill="#fff" stroke="#f07090" stroke-width="0.6"/>
<text x="509.8" y="277.65" font-family="Liberation Serif" font-size="3.8" fill="#1a1a1a">GPR84</text>
<rect x="508.8" y="279.75" width="14.6" height="5.7" rx="0.7" fill="#fff" stroke="#40b0e0" stroke-width="0.6"/>
<text x="509.8" y="283.95" font-family="Liberation Serif" font-size="3.8" fill="#1a1a1a">NFAM1</text>
<rect x="508.8" y="286.05" width="13.2" height="5.7" rx="0.7" fill="#fff" stroke="#e060c8" stroke-width="0.6"/>
<text x="509.8" y="290.25" font-family="Liberation Serif" font-size="3.8" fill="#1a1a1a">PSRC1</text>
<rect x="508.8" y="292.25" width="15.51" height="5.7" rx="0.7" fill="#fff" stroke="#e060c8" stroke-width="0.6"/>
<text x="509.8" y="296.45" font-family="Liberation Serif" font-size="3.8" fill="#1a1a1a">NLRP12</text>
<rect x="508.8" y="298.55" width="14.67" height="5.7" rx="0.7" fill="#fff" stroke="#f0a040" stroke-width="0.6"/>
<text x="509.8" y="302.75" font-family="Liberation Serif" font-size="3.8" fill="#1a1a1a">ACOD1</text>
<rect x="508.8" y="304.75" width="12.56" height="5.7" rx="0.7" fill="#fff" stroke="#80e080" stroke-width="0.6"/>
<text x="509.8" y="308.95" font-family="Liberation Serif" font-size="3.8" fill="#1a1a1a">S100A</text>
<rect x="508.8" y="311.05" width="9.81" height="5.7" rx="0.7" fill="#fff" stroke="#80e060" stroke-width="0.6"/>
<text x="509.8" y="315.25" font-family="Liberation Serif" font-size="3.8" fill="#1a1a1a">GAL</text>
<rect x="508.8" y="317.35" width="14.46" height="5.7" rx="0.7" fill="#fff" stroke="#40d0c0" stroke-width="0.6"/>
<text x="509.8" y="321.55" font-family="Liberation Serif" font-size="3.8" fill="#1a1a1a">S100A8</text>
<rect x="508.8" y="323.65" width="10.87" height="5.7" rx="0.7" fill="#fff" stroke="#40c8d0" stroke-width="0.6"/>
<text x="509.8" y="327.85" font-family="Liberation Serif" font-size="3.8" fill="#1a1a1a">TSR1</text>
<rect x="508.8" y="329.95" width="17.2" height="5.7" rx="0.7" fill="#fff" stroke="#60a0f0" stroke-width="0.6"/>
<text x="509.8" y="334.15" font-family="Liberation Serif" font-size="3.8" fill="#1a1a1a">TNFSF15</text>
<rect x="508.8" y="336.25" width="10.66" height="5.7" rx="0.7" fill="#fff" stroke="#f0a040" stroke-width="0.6"/>
<text x="509.8" y="340.45" font-family="Liberation Serif" font-size="3.8" fill="#1a1a1a">NMB</text>
<rect x="508.8" y="342.55" width="12.35" height="5.7" rx="0.7" fill="#fff" stroke="#f0a040" stroke-width="0.6"/>
<text x="509.8" y="346.75" font-family="Liberation Serif" font-size="3.8" fill="#1a1a1a">SPICE</text>
<rect x="524" y="260.75" width="14.67" height="5.7" rx="0.7" fill="#fff" stroke="#40d0d0" stroke-width="0.6"/>
<text x="525" y="264.95" font-family="Liberation Serif" font-size="3.8" fill="#1a1a1a">NCAD6</text>
<rect x="524" y="267.55" width="17.2" height="5.7" rx="0.7" fill="#fff" stroke="#c060d0" stroke-width="0.6"/>
<text x="525" y="271.75" font-family="Liberation Serif" font-size="3.8" fill="#1a1a1a">TNFSF18</text>
<rect x="524" y="274.25" width="13.61" height="5.7" rx="0.7" fill="#fff" stroke="#40b0e0" stroke-width="0.6"/>
<text x="525" y="278.45" font-family="Liberation Serif" font-size="3.8" fill="#1a1a1a">ETV5L</text>
</g>
<g id="Db">
<rect x="323.4" y="374.6" width="219.6" height="67" fill="none" stroke="#8a8a8a" stroke-width="0.8"/>
<g font-family="Liberation Serif" font-size="3.6" fill="#111">
<line x1="321.8" y1="379.2" x2="323.4" y2="379.2" stroke="#8a8a8a" stroke-width="0.6"/>
<text x="321" y="380.4" text-anchor="end">1.4</text>
<line x1="321.8" y1="388.1" x2="323.4" y2="388.1" stroke="#8a8a8a" stroke-width="0.6"/>
<text x="321" y="389.3" text-anchor="end">1.2</text>
<line x1="321.8" y1="397" x2="323.4" y2="397" stroke="#8a8a8a" stroke-width="0.6"/>
<text x="321" y="398.2" text-anchor="end">1.0</text>
<line x1="321.8" y1="405.9" x2="323.4" y2="405.9" stroke="#8a8a8a" stroke-width="0.6"/>
<text x="321" y="407.1" text-anchor="end">0.8</text>
<line x1="321.8" y1="414.9" x2="323.4" y2="414.9" stroke="#8a8a8a" stroke-width="0.6"/>
<text x="321" y="416.1" text-anchor="end">0.6</text>
<line x1="321.8" y1="423.9" x2="323.4" y2="423.9" stroke="#8a8a8a" stroke-width="0.6"/>
<text x="321" y="425.1" text-anchor="end">0.4</text>
<line x1="321.8" y1="432.9" x2="323.4" y2="432.9" stroke="#8a8a8a" stroke-width="0.6"/>
<text x="321" y="434.1" text-anchor="end">0.2</text>
<line x1="337.5" y1="441.6" x2="337.5" y2="443.2" stroke="#8a8a8a" stroke-width="0.6"/>
<text x="337.5" y="446.8" text-anchor="middle">-7</text>
<line x1="370.8" y1="441.6" x2="370.8" y2="443.2" stroke="#8a8a8a" stroke-width="0.6"/>
<text x="370.8" y="446.8" text-anchor="middle">-6</text>
<line x1="404.1" y1="441.6" x2="404.1" y2="443.2" stroke="#8a8a8a" stroke-width="0.6"/>
<text x="404.1" y="446.8" text-anchor="middle">-5</text>
<line x1="437.4" y1="441.6" x2="437.4" y2="443.2" stroke="#8a8a8a" stroke-width="0.6"/>
<text x="437.4" y="446.8" text-anchor="middle">-4</text>
<line x1="470.7" y1="441.6" x2="470.7" y2="443.2" stroke="#8a8a8a" stroke-width="0.6"/>
<text x="470.7" y="446.8" text-anchor="middle">-3</text>
<line x1="504" y1="441.6" x2="504" y2="443.2" stroke="#8a8a8a" stroke-width="0.6"/>
<text x="504" y="446.8" text-anchor="middle">-2</text>
<line x1="537.3" y1="441.6" x2="537.3" y2="443.2" stroke="#8a8a8a" stroke-width="0.6"/>
<text x="537.3" y="446.8" text-anchor="middle">-1</text>
<text x="432" y="451.9" text-anchor="middle" font-size="4.1">log(lambda)</text>
<text transform="translate(314,408.1) rotate(-90)" text-anchor="middle" font-size="3.7">Partial Likelihood Deviance</text>
</g>
<path d="M329.2 425.7V435.9M331.3 425.63V435.86M333.39 425.57V435.83M335.49 425.5V435.79M337.59 425.43V435.76M339.68 425.37V435.72M341.78 425.3V435.68M343.88 425.23V435.65M345.98 425.17V435.61M348.07 425.1V435.58M350.17 425.03V435.54M352.27 424.97V435.5M354.36 424.9V435.47M356.46 424.83V435.43M358.56 424.76V435.4M360.65 424.7V435.36M362.75 424.63V435.32M364.85 424.56V435.29M366.95 424.5V435.25M369.04 424.43V435.22M371.14 424.32V435.19M373.24 424.17V435.17M375.33 424.02V435.16M377.43 423.87V435.14M379.53 423.71V435.12M381.62 423.56V435.11M383.72 423.41V435.09M385.82 423.26V435.07M387.92 423.11V435.06M390.01 422.96V435.04M392.11 422.81V435.02M394.21 422.66V435.01M396.3 422.56V434.93M398.4 422.5V434.82M400.5 422.46V434.73M402.59 422.47V434.68M404.69 422.47V434.64M406.79 422.47V434.59M408.88 422.48V434.54M410.98 422.48V434.5M413.08 422.49V434.45M415.18 422.49V434.41M417.27 422.49V434.36M419.37 422.5V434.31M421.47 422.45V434.21M423.56 422.37V434.09M425.66 422.3V433.96M427.76 422.22V433.84M429.85 422.15V433.71M431.95 422.07V433.58M434.05 422V433.46M436.15 421.92V433.33M438.24 421.85V433.21M440.34 421.77V433.08M442.44 421.7V432.96M444.53 421.56V432.77M446.63 421.36V432.61M448.73 421.14V432.46M450.82 420.93V432.32M452.92 420.71V432.17M455.02 420.5V432.02M457.12 420.28V431.87M459.21 420.03V431.69M461.31 419.75V431.47M463.41 419.47V431.26M465.5 419.2V431.05M467.6 418.92V430.84M469.7 418.64V430.63M471.79 418.29V430.11M473.89 417.93V429.54M475.99 417.57V428.97M478.08 417.21V428.41M480.18 416.85V427.84M482.28 416.5V427.27M484.38 416.06V426.61M486.47 415.29V425.55M488.57 414.52V424.5M490.67 413.74V423.44M492.76 412.97V422.39M494.86 412.2V421.33M496.96 411.43V420.27M499.05 410.47V419.1M501.15 409.47V417.91M503.25 408.48V416.71M505.35 407.48V415.52M507.44 406.49V414.32M509.54 405.5V413.13M511.64 404.39V411.75M513.73 403.07V410.02M515.83 401.75V408.3M517.93 400.43V406.58M520.02 399.12V404.86M522.12 397.7V403M524.22 395.76V400.39M526.32 393.82V397.78M528.41 391.87V395.18M530.51 389.65V392.22M532.61 386.54V388.17M534.7 383.39V384.16" stroke="#2a2a2a" stroke-width="0.5" fill="none"/>
<line x1="330" y1="374.6" x2="330" y2="441.6" stroke="#ffb0b0" stroke-width="0.6"/>
<text x="325" y="377.8" font-family="Liberation Serif" font-size="3.8" fill="#222">λ=6.4×10<tspan dy="-1.4" font-size="2.7">-3</tspan></text>
<g fill="#ff2020"><circle cx="329.2" cy="430.8" r="0.75"/><circle cx="331.3" cy="430.75" r="0.75"/><circle cx="333.39" cy="430.7" r="0.75"/><circle cx="335.49" cy="430.65" r="0.75"/><circle cx="337.59" cy="430.59" r="0.75"/><circle cx="339.68" cy="430.54" r="0.75"/><circle cx="341.78" cy="430.49" r="0.75"/><circle cx="343.88" cy="430.44" r="0.75"/><circle cx="345.98" cy="430.39" r="0.75"/><circle cx="348.07" cy="430.34" r="0.75"/><circle cx="350.17" cy="430.29" r="0.75"/><circle cx="352.27" cy="430.23" r="0.75"/><circle cx="354.36" cy="430.18" r="0.75"/><circle cx="356.46" cy="430.13" r="0.75"/><circle cx="358.56" cy="430.08" r="0.75"/><circle cx="360.65" cy="430.03" r="0.75"/><circle cx="362.75" cy="429.98" r="0.75"/><circle cx="364.85" cy="429.93" r="0.75"/><circle cx="366.95" cy="429.87" r="0.75"/><circle cx="369.04" cy="429.82" r="0.75"/><circle cx="371.14" cy="429.75" r="0.75"/><circle cx="373.24" cy="429.67" r="0.75"/><circle cx="375.33" cy="429.59" r="0.75"/><circle cx="377.43" cy="429.5" r="0.75"/><circle cx="379.53" cy="429.42" r="0.75"/><circle cx="381.62" cy="429.34" r="0.75"/><circle cx="383.72" cy="429.25" r="0.75"/><circle cx="385.82" cy="429.17" r="0.75"/><circle cx="387.92" cy="429.08" r="0.75"/><circle cx="390.01" cy="429" r="0.75"/><circle cx="392.11" cy="428.92" r="0.75"/><circle cx="394.21" cy="428.83" r="0.75"/><circle cx="396.3" cy="428.75" r="0.75"/><circle cx="398.4" cy="428.66" r="0.75"/><circle cx="400.5" cy="428.6" r="0.75"/><circle cx="402.59" cy="428.57" r="0.75"/><circle cx="404.69" cy="428.55" r="0.75"/><circle cx="406.79" cy="428.53" r="0.75"/><circle cx="408.88" cy="428.51" r="0.75"/><circle cx="410.98" cy="428.49" r="0.75"/><circle cx="413.08" cy="428.47" r="0.75"/><circle cx="415.18" cy="428.45" r="0.75"/><circle cx="417.27" cy="428.43" r="0.75"/><circle cx="419.37" cy="428.41" r="0.75"/><circle cx="421.47" cy="428.33" r="0.75"/><circle cx="423.56" cy="428.23" r="0.75"/><circle cx="425.66" cy="428.13" r="0.75"/><circle cx="427.76" cy="428.03" r="0.75"/><circle cx="429.85" cy="427.93" r="0.75"/><circle cx="431.95" cy="427.83" r="0.75"/><circle cx="434.05" cy="427.73" r="0.75"/><circle cx="436.15" cy="427.63" r="0.75"/><circle cx="438.24" cy="427.53" r="0.75"/><circle cx="440.34" cy="427.43" r="0.75"/><circle cx="442.44" cy="427.33" r="0.75"/><circle cx="444.53" cy="427.17" r="0.75"/><circle cx="446.63" cy="426.99" r="0.75"/><circle cx="448.73" cy="426.8" r="0.75"/><circle cx="450.82" cy="426.62" r="0.75"/><circle cx="452.92" cy="426.44" r="0.75"/><circle cx="455.02" cy="426.26" r="0.75"/><circle cx="457.12" cy="426.08" r="0.75"/><circle cx="459.21" cy="425.86" r="0.75"/><circle cx="461.31" cy="425.61" r="0.75"/><circle cx="463.41" cy="425.37" r="0.75"/><circle cx="465.5" cy="425.12" r="0.75"/><circle cx="467.6" cy="424.88" r="0.75"/><circle cx="469.7" cy="424.64" r="0.75"/><circle cx="471.79" cy="424.2" r="0.75"/><circle cx="473.89" cy="423.74" r="0.75"/><circle cx="475.99" cy="423.27" r="0.75"/><circle cx="478.08" cy="422.81" r="0.75"/><circle cx="480.18" cy="422.35" r="0.75"/><circle cx="482.28" cy="421.88" r="0.75"/><circle cx="484.38" cy="421.34" r="0.75"/><circle cx="486.47" cy="420.42" r="0.75"/><circle cx="488.57" cy="419.51" r="0.75"/><circle cx="490.67" cy="418.59" r="0.75"/><circle cx="492.76" cy="417.68" r="0.75"/><circle cx="494.86" cy="416.76" r="0.75"/><circle cx="496.96" cy="415.85" r="0.75"/><circle cx="499.05" cy="414.78" r="0.75"/><circle cx="501.15" cy="413.69" r="0.75"/><circle cx="503.25" cy="412.59" r="0.75"/><circle cx="505.35" cy="411.5" r="0.75"/><circle cx="507.44" cy="410.41" r="0.75"/><circle cx="509.54" cy="409.31" r="0.75"/><circle cx="511.64" cy="408.07" r="0.75"/><circle cx="513.73" cy="406.55" r="0.75"/><circle cx="515.83" cy="405.03" r="0.75"/><circle cx="517.93" cy="403.51" r="0.75"/><circle cx="520.02" cy="401.99" r="0.75"/><circle cx="522.12" cy="400.35" r="0.75"/><circle cx="524.22" cy="398.08" r="0.75"/><circle cx="526.32" cy="395.8" r="0.75"/><circle cx="528.41" cy="393.52" r="0.75"/><circle cx="530.51" cy="390.93" r="0.75"/><circle cx="532.61" cy="387.35" r="0.75"/><circle cx="534.7" cy="383.78" r="0.75"/><circle cx="536.8" cy="380.2" r="0.75"/></g>
</g>
<text x="4.0" y="465.2" font-family="Liberation Serif" font-size="17.1" fill="#111">E</text>
<g id="E">
<rect x="47.2" y="464.6" width="215.1" height="103.8" fill="none" stroke="#8a8a8a" stroke-width="0.8"/>
<g font-family="Liberation Serif" font-size="3.6" fill="#111">
<line x1="45.6" y1="481.9" x2="47.2" y2="481.9" stroke="#8a8a8a" stroke-width="0.6"/>
<text x="44.8" y="483.1" text-anchor="end">0.15</text>
<line x1="45.6" y1="502.8" x2="47.2" y2="502.8" stroke="#8a8a8a" stroke-width="0.6"/>
<text x="44.8" y="504" text-anchor="end">0.10</text>
<line x1="45.6" y1="523.7" x2="47.2" y2="523.7" stroke="#8a8a8a" stroke-width="0.6"/>
<text x="44.8" y="524.9" text-anchor="end">0.05</text>
<line x1="45.6" y1="544.6" x2="47.2" y2="544.6" stroke="#8a8a8a" stroke-width="0.6"/>
<text x="44.8" y="545.8" text-anchor="end">0.00</text>
<line x1="45.6" y1="565.5" x2="47.2" y2="565.5" stroke="#8a8a8a" stroke-width="0.6"/>
<text x="44.8" y="566.7" text-anchor="end">-0.05</text>
<line x1="47.6" y1="568.4" x2="47.6" y2="570" stroke="#8a8a8a" stroke-width="0.6"/>
<text x="47.6" y="573.6" text-anchor="middle">1</text>
<line x1="74.8" y1="568.4" x2="74.8" y2="570" stroke="#8a8a8a" stroke-width="0.6"/>
<text x="74.8" y="573.6" text-anchor="middle">2</text>
<line x1="102" y1="568.4" x2="102" y2="570" stroke="#8a8a8a" stroke-width="0.6"/>
<text x="102" y="573.6" text-anchor="middle">3</text>
<line x1="129.2" y1="568.4" x2="129.2" y2="570" stroke="#8a8a8a" stroke-width="0.6"/>
<text x="129.2" y="573.6" text-anchor="middle">4</text>
<line x1="156.4" y1="568.4" x2="156.4" y2="570" stroke="#8a8a8a" stroke-width="0.6"/>
<text x="156.4" y="573.6" text-anchor="middle">5</text>
<line x1="183.6" y1="568.4" x2="183.6" y2="570" stroke="#8a8a8a" stroke-width="0.6"/>
<text x="183.6" y="573.6" text-anchor="middle">6</text>
<line x1="210.8" y1="568.4" x2="210.8" y2="570" stroke="#8a8a8a" stroke-width="0.6"/>
<text x="210.8" y="573.6" text-anchor="middle">7</text>
<text x="154" y="578.7" text-anchor="middle" font-size="4.1">-log(lambda)</text>
<text transform="translate(33.6,516.5) rotate(-90)" text-anchor="middle" font-size="3.7">Coefficients</text>
</g>
<path d="M130 544.6 C136.67 543.75 155.45 541.61 170 539.48 C184.55 537.35 209.42 533.08 217.3 531.8" stroke="#9040d0" stroke-width="0.8" fill="none" stroke-opacity="1.0" stroke-linejoin="round" stroke-linecap="round"/>
<path d="M130 544.6 C136.67 544.05 155.45 542.69 170 541.32 C184.55 539.95 209.42 537.22 217.3 536.4" stroke="#6050e0" stroke-width="0.8" fill="none" stroke-opacity="1.0" stroke-linejoin="round" stroke-linecap="round"/>
<path d="M130 544.6 C136.67 544.43 155.45 543.99 170 543.56 C184.55 543.13 209.42 542.26 217.3 542" stroke="#40c0e0" stroke-width="0.8" fill="none" stroke-opacity="1.0" stroke-linejoin="round" stroke-linecap="round"/>
<path d="M130 544.6 C136.67 544.49 155.45 544.23 170 543.96 C184.55 543.69 209.42 543.16 217.3 543" stroke="#e050c0" stroke-width="0.8" fill="none" stroke-opacity="1.0" stroke-linejoin="round" stroke-linecap="round"/>
<path d="M130 544.6 C136.67 544.73 155.45 545.04 170 545.36 C184.55 545.68 209.42 546.31 217.3 546.5" stroke="#30d0a0" stroke-width="0.8" fill="none" stroke-opacity="1.0" stroke-linejoin="round" stroke-linecap="round"/>
<path d="M130 544.6 C136.67 544.23 155.45 543.29 170 542.36 C184.55 541.43 209.42 539.56 217.3 539" stroke="#8870e0" stroke-width="0.8" fill="none" stroke-opacity="1.0" stroke-linejoin="round" stroke-linecap="round"/>
<path d="M130 544.6 C136.67 544.36 155.45 543.76 170 543.16 C184.55 542.56 209.42 541.36 217.3 541" stroke="#50b0f0" stroke-width="0.8" fill="none" stroke-opacity="1.0" stroke-linejoin="round" stroke-linecap="round"/>
<line x1="47.2" y1="544.6" x2="217.3" y2="544.6" stroke="#7a44dd" stroke-width="1.4"/>
<path d="M61.4 544.6 C63.82 540.8 71.05 528.93 75.9 521.8 C80.75 514.67 86.25 506.5 90.5 501.8 C94.75 497.1 96.25 497.08 101.4 493.6 C106.55 490.12 114.88 484.75 121.4 480.9 C127.92 477.05 132.17 472.62 140.5 470.5 C148.83 468.38 158.6 469.18 171.4 468.2 C184.2 467.22 209.65 465.2 217.3 464.6" stroke="#f0407a" stroke-width="1.15" fill="none" stroke-opacity="1.0" stroke-linejoin="round" stroke-linecap="round"/>
<path d="M47.4 544.6 C49.73 542.32 56.65 534.7 61.4 530.9 C66.15 527.1 71.05 525.13 75.9 521.8 C80.75 518.47 85.05 514.83 90.5 510.9 C95.95 506.97 102.55 501.83 108.6 498.2 C114.65 494.57 121.65 491.47 126.8 489.1 C131.95 486.73 135.63 484.98 139.5 484 C143.37 483.02 144.68 483.35 150 483.2 C155.32 483.05 163.3 482.88 171.4 483.1 C179.5 483.32 190.95 483.95 198.6 484.5 C206.25 485.05 214.18 486.08 217.3 486.4" stroke="#e0b028" stroke-width="1.15" fill="none" stroke-opacity="1.0" stroke-linejoin="round" stroke-linecap="round"/>
<path d="M47.4 544.6 C49.73 542.02 57.87 532.6 61.4 529.1 C64.93 525.6 65.27 525.27 68.6 523.6 C71.93 521.93 75.33 520.15 81.4 519.1 C87.47 518.05 98.95 518.22 105 517.3 C111.05 516.38 113.15 515.42 117.7 513.6 C122.25 511.78 127.75 508.07 132.3 506.4 C136.85 504.73 141.52 504.22 145 503.6 C148.48 502.98 148.8 504.05 153.2 502.7 C157.6 501.35 165.35 498.07 171.4 495.5 C177.45 492.93 184.05 489.73 189.5 487.3 C194.95 484.87 199.47 482.67 204.1 480.9 C208.73 479.13 215.1 477.4 217.3 476.7" stroke="#a8e83c" stroke-width="1.15" fill="none" stroke-opacity="1.0" stroke-linejoin="round" stroke-linecap="round"/>
<path d="M47.4 544.6 C50.03 543.98 57.53 542.27 63.2 540.9 C68.87 539.53 75.35 538.67 81.4 536.4 C87.45 534.13 93.45 530.03 99.5 527.3 C105.55 524.57 111.63 522.18 117.7 520 C123.77 517.82 129.98 515.35 135.9 514.2 C141.82 513.05 147.28 513.2 153.2 513.1 C159.12 513 165.35 513.37 171.4 513.6 C177.45 513.83 181.85 513.98 189.5 514.5 C197.15 515.02 212.67 516.33 217.3 516.7" stroke="#66e040" stroke-width="1.15" fill="none" stroke-opacity="1.0" stroke-linejoin="round" stroke-linecap="round"/>
<path d="M92.3 544.6 C95.02 543.23 102.85 539.28 108.6 536.4 C114.35 533.52 121.33 529.58 126.8 527.3 C132.27 525.02 137 523.62 141.4 522.7 C145.8 521.78 148.2 522.18 153.2 521.8 C158.2 521.42 165.35 520.55 171.4 520.4 C177.45 520.25 181.85 520.52 189.5 520.9 C197.15 521.28 212.67 522.4 217.3 522.7" stroke="#3399ee" stroke-width="1.15" fill="none" stroke-opacity="1.0" stroke-linejoin="round" stroke-linecap="round"/>
<path d="M47.4 544.6 C50.03 543.38 58.15 538.82 63.2 537.3 C68.25 535.78 73.15 535.65 77.7 535.5 C82.25 535.35 85.35 535.95 90.5 536.4 C95.65 536.85 102.55 537.6 108.6 538.2 C114.65 538.8 120.73 539.55 126.8 540 C132.87 540.45 129.92 540.7 145 540.9 C160.08 541.1 205.25 541.15 217.3 541.2" stroke="#40e090" stroke-width="1.15" fill="none" stroke-opacity="1.0" stroke-linejoin="round" stroke-linecap="round"/>
<path d="M47.4 544.6 C50.03 545.8 58.15 550.23 63.2 551.8 C68.25 553.37 64.07 553.6 77.7 554 C91.33 554.4 121.73 553.65 145 554.2 C168.27 554.75 205.25 556.78 217.3 557.3" stroke="#22d888" stroke-width="1.15" fill="none" stroke-opacity="1.0" stroke-linejoin="round" stroke-linecap="round"/>
<path d="M121.4 544.6 C123.22 545.35 128.37 547.75 132.3 549.1 C136.23 550.45 138.48 551.18 145 552.7 C151.52 554.22 159.35 555.62 171.4 558.2 C183.45 560.78 209.65 566.53 217.3 568.2" stroke="#f03c96" stroke-width="1.15" fill="none" stroke-opacity="1.0" stroke-linejoin="round" stroke-linecap="round"/>
<path d="M135 544.6 C139.55 544.9 154.72 545.8 162.3 546.4 C169.88 547 173.53 547.82 180.5 548.2 C187.47 548.58 197.97 548.85 204.1 548.7 C210.23 548.55 215.1 547.53 217.3 547.3" stroke="#f0a830" stroke-width="1.15" fill="none" stroke-opacity="1.0" stroke-linejoin="round" stroke-linecap="round"/>
<path d="M141.4 544.6 L217.3 464.6" stroke="#7a30d0" stroke-width="1.2" fill="none" stroke-opacity="1.0" stroke-linejoin="round" stroke-linecap="round"/>
<text x="212" y="468.2" font-family="Liberation Serif" font-size="3.8" fill="#222">λ=6.4×10<tspan dy="-1.4" font-size="2.7">-3</tspan></text>
<line x1="202.3" y1="478" x2="217.7" y2="474.3" stroke="#f070a0" stroke-width="0.4"/>
<line x1="202.3" y1="478" x2="217.7" y2="480.6" stroke="#b070e0" stroke-width="0.4"/>
<line x1="202.3" y1="478" x2="217.7" y2="486.9" stroke="#e0c050" stroke-width="0.4"/>
<line x1="202.3" y1="545.5" x2="217.7" y2="493.2" stroke="#e0c050" stroke-width="0.4"/>
<line x1="202.3" y1="545.5" x2="217.7" y2="499.6" stroke="#b0e070" stroke-width="0.4"/>
<line x1="202.3" y1="545.5" x2="217.7" y2="505.9" stroke="#60c0e0" stroke-width="0.4"/>
<line x1="202.3" y1="545.5" x2="217.7" y2="512.2" stroke="#a060e0" stroke-width="0.4"/>
<line x1="202.3" y1="545.5" x2="217.7" y2="518.6" stroke="#e0c050" stroke-width="0.4"/>
<line x1="202.3" y1="545.5" x2="217.7" y2="524.9" stroke="#a060e0" stroke-width="0.4"/>
<line x1="202.3" y1="545.5" x2="217.7" y2="531.3" stroke="#80e080" stroke-width="0.4"/>
<line x1="202.3" y1="545.5" x2="217.7" y2="537.6" stroke="#8080e0" stroke-width="0.4"/>
<line x1="202.3" y1="545.5" x2="217.7" y2="543.9" stroke="#60d080" stroke-width="0.4"/>
<line x1="202.3" y1="545.5" x2="217.7" y2="550.3" stroke="#ccc" stroke-width="0.4"/>
<line x1="202.3" y1="545.5" x2="217.7" y2="556.6" stroke="#60d0e0" stroke-width="0.4"/>
<line x1="202.3" y1="545.5" x2="237.4" y2="473.8" stroke="#e0e070" stroke-width="0.4"/>
<line x1="202.3" y1="545.5" x2="237.4" y2="480.2" stroke="#f08090" stroke-width="0.4"/>
<line x1="202.3" y1="545.5" x2="237.4" y2="486.5" stroke="#e0c050" stroke-width="0.4"/>
<line x1="202.3" y1="545.5" x2="237.4" y2="492.9" stroke="#60c0e0" stroke-width="0.4"/>
<line x1="202.3" y1="545.5" x2="237.4" y2="499.2" stroke="#60a0f0" stroke-width="0.4"/>
<line x1="202.3" y1="545.5" x2="237.4" y2="505.6" stroke="#8080e0" stroke-width="0.4"/>
<line x1="202.3" y1="545.5" x2="237.4" y2="511.9" stroke="#a080e0" stroke-width="0.4"/>
<line x1="202.3" y1="545.5" x2="237.4" y2="518.7" stroke="#f0c060" stroke-width="0.4"/>
<line x1="202.3" y1="545.5" x2="237.4" y2="525.5" stroke="#80e0a0" stroke-width="0.4"/>
<line x1="202.3" y1="545.5" x2="237.4" y2="532.3" stroke="#e080c0" stroke-width="0.4"/>
<line x1="202.3" y1="545.5" x2="237.4" y2="539.3" stroke="#f080b0" stroke-width="0.4"/>
<rect x="217.7" y="471.45" width="15.51" height="5.7" rx="0.7" fill="#fff" stroke="#f070a0" stroke-width="0.6"/>
<text x="218.7" y="475.65" font-family="Liberation Serif" font-size="3.8" fill="#1a1a1a">SLC7A5</text>
<rect x="217.7" y="477.75" width="13.19" height="5.7" rx="0.7" fill="#fff" stroke="#b070e0" stroke-width="0.6"/>
<text x="218.7" y="481.95" font-family="Liberation Serif" font-size="3.8" fill="#1a1a1a">GPR84</text>
<rect x="217.7" y="484.05" width="15.51" height="5.7" rx="0.7" fill="#fff" stroke="#e0c050" stroke-width="0.6"/>
<text x="218.7" y="488.25" font-family="Liberation Serif" font-size="3.8" fill="#1a1a1a">ZBTB16</text>
<rect x="217.7" y="490.35" width="12.77" height="5.7" rx="0.7" fill="#fff" stroke="#e0c050" stroke-width="0.6"/>
<text x="218.7" y="494.55" font-family="Liberation Serif" font-size="3.8" fill="#1a1a1a">PSAT1</text>
<rect x="217.7" y="496.75" width="11.5" height="5.7" rx="0.7" fill="#fff" stroke="#b0e070" stroke-width="0.6"/>
<text x="218.7" y="500.95" font-family="Liberation Serif" font-size="3.8" fill="#1a1a1a">NSG1</text>
<rect x="217.7" y="503.05" width="9.81" height="5.7" rx="0.7" fill="#fff" stroke="#60c0e0" stroke-width="0.6"/>
<text x="218.7" y="507.25" font-family="Liberation Serif" font-size="3.8" fill="#1a1a1a">CKB</text>
<rect x="217.7" y="509.35" width="15.51" height="5.7" rx="0.7" fill="#fff" stroke="#a060e0" stroke-width="0.6"/>
<text x="218.7" y="513.55" font-family="Liberation Serif" font-size="3.8" fill="#1a1a1a">PIK3DD</text>
<rect x="217.7" y="515.75" width="18.26" height="5.7" rx="0.7" fill="#fff" stroke="#e0c050" stroke-width="0.6"/>
<text x="218.7" y="519.95" font-family="Liberation Serif" font-size="3.8" fill="#1a1a1a">SLCO4A1</text>
<rect x="217.7" y="522.05" width="15.51" height="5.7" rx="0.7" fill="#fff" stroke="#a060e0" stroke-width="0.6"/>
<text x="218.7" y="526.25" font-family="Liberation Serif" font-size="3.8" fill="#1a1a1a">NLRP12</text>
<rect x="217.7" y="528.45" width="12.56" height="5.7" rx="0.7" fill="#fff" stroke="#80e080" stroke-width="0.6"/>
<text x="218.7" y="532.65" font-family="Liberation Serif" font-size="3.8" fill="#1a1a1a">FSEP1</text>
<rect x="217.7" y="534.75" width="16.14" height="5.7" rx="0.7" fill="#fff" stroke="#8080e0" stroke-width="0.6"/>
<text x="218.7" y="538.95" font-family="Liberation Serif" font-size="3.8" fill="#1a1a1a">LGALS3</text>
<rect x="217.7" y="541.05" width="12.34" height="5.7" rx="0.7" fill="#fff" stroke="#60d080" stroke-width="0.6"/>
<text x="218.7" y="545.25" font-family="Liberation Serif" font-size="3.8" fill="#1a1a1a">TNIP3</text>
<rect x="217.7" y="547.45" width="6.01" height="5.7" rx="0.7" fill="#fff" stroke="#ffffff" stroke-width="0.6"/>
<text x="218.7" y="551.65" font-family="Liberation Serif" font-size="3.8" fill="#1a1a1a">F5</text>
<rect x="217.7" y="553.75" width="11.08" height="5.7" rx="0.7" fill="#fff" stroke="#60d0e0" stroke-width="0.6"/>
<text x="218.7" y="557.95" font-family="Liberation Serif" font-size="3.8" fill="#1a1a1a">CD86</text>
<rect x="237.4" y="470.95" width="13.9" height="5.7" rx="0.7" fill="#fff" stroke="#e0e070" stroke-width="0.6"/>
<text x="238.4" y="475.15" font-family="Liberation Serif" font-size="3.8" fill="#1a1a1a">PPARG</text>
<rect x="237.4" y="477.35" width="12.98" height="5.7" rx="0.7" fill="#fff" stroke="#f08090" stroke-width="0.6"/>
<text x="238.4" y="481.55" font-family="Liberation Serif" font-size="3.8" fill="#1a1a1a">PIPOX</text>
<rect x="237.4" y="483.65" width="14.67" height="5.7" rx="0.7" fill="#fff" stroke="#e0c050" stroke-width="0.6"/>
<text x="238.4" y="487.85" font-family="Liberation Serif" font-size="3.8" fill="#1a1a1a">KCNQ1</text>
<rect x="237.4" y="490.05" width="14.03" height="5.7" rx="0.7" fill="#fff" stroke="#60c0e0" stroke-width="0.6"/>
<text x="238.4" y="494.25" font-family="Liberation Serif" font-size="3.8" fill="#1a1a1a">RADIX</text>
<rect x="237.4" y="496.35" width="13.82" height="5.7" rx="0.7" fill="#fff" stroke="#60a0f0" stroke-width="0.6"/>
<text x="238.4" y="500.55" font-family="Liberation Serif" font-size="3.8" fill="#1a1a1a">PDE6A</text>
<rect x="237.4" y="502.75" width="11.93" height="5.7" rx="0.7" fill="#fff" stroke="#8080e0" stroke-width="0.6"/>
<text x="238.4" y="506.95" font-family="Liberation Serif" font-size="3.8" fill="#1a1a1a">HSCB</text>
<rect x="237.4" y="509.05" width="13.61" height="5.7" rx="0.7" fill="#fff" stroke="#a080e0" stroke-width="0.6"/>
<text x="238.4" y="513.25" font-family="Liberation Serif" font-size="3.8" fill="#1a1a1a">HSPH1</text>
<rect x="237.4" y="515.85" width="16.5" height="5.7" rx="0.7" fill="#fff" stroke="#f0c060" stroke-width="0.6"/>
<text x="238.4" y="520.05" font-family="Liberation Serif" font-size="3.8" fill="#1a1a1a">FAM83A</text>
<rect x="237.4" y="522.65" width="14.67" height="5.7" rx="0.7" fill="#fff" stroke="#80e0a0" stroke-width="0.6"/>
<text x="238.4" y="526.85" font-family="Liberation Serif" font-size="3.8" fill="#1a1a1a">PRSS22</text>
<rect x="237.4" y="529.45" width="16.78" height="5.7" rx="0.7" fill="#fff" stroke="#e080c0" stroke-width="0.6"/>
<text x="238.4" y="533.65" font-family="Liberation Serif" font-size="3.8" fill="#1a1a1a">DCBLD2</text>
<rect x="237.4" y="536.45" width="20.37" height="5.7" rx="0.7" fill="#fff" stroke="#f080b0" stroke-width="0.6"/>
<text x="238.4" y="540.65" font-family="Liberation Serif" font-size="3.8" fill="#1a1a1a">LINC02432</text>
</g>
<g id="Eb">
<rect x="42.8" y="588.8" width="220" height="66.6" fill="none" stroke="#8a8a8a" stroke-width="0.8"/>
<g font-family="Liberation Serif" font-size="3.6" fill="#111">
<line x1="41.2" y1="589.8" x2="42.8" y2="589.8" stroke="#8a8a8a" stroke-width="0.6"/>
<text x="40.4" y="591" text-anchor="end">1.5</text>
<line x1="41.2" y1="610" x2="42.8" y2="610" stroke="#8a8a8a" stroke-width="0.6"/>
<text x="40.4" y="611.2" text-anchor="end">1.0</text>
<line x1="41.2" y1="630.2" x2="42.8" y2="630.2" stroke="#8a8a8a" stroke-width="0.6"/>
<text x="40.4" y="631.4" text-anchor="end">0.5</text>
<line x1="41.2" y1="650.3" x2="42.8" y2="650.3" stroke="#8a8a8a" stroke-width="0.6"/>
<text x="40.4" y="651.5" text-anchor="end">0.0</text>
<line x1="58.1" y1="655.4" x2="58.1" y2="657" stroke="#8a8a8a" stroke-width="0.6"/>
<text x="58.1" y="660.6" text-anchor="middle">-7</text>
<line x1="91.2" y1="655.4" x2="91.2" y2="657" stroke="#8a8a8a" stroke-width="0.6"/>
<text x="91.2" y="660.6" text-anchor="middle">-6</text>
<line x1="124.3" y1="655.4" x2="124.3" y2="657" stroke="#8a8a8a" stroke-width="0.6"/>
<text x="124.3" y="660.6" text-anchor="middle">-5</text>
<line x1="157.4" y1="655.4" x2="157.4" y2="657" stroke="#8a8a8a" stroke-width="0.6"/>
<text x="157.4" y="660.6" text-anchor="middle">-4</text>
<line x1="190.5" y1="655.4" x2="190.5" y2="657" stroke="#8a8a8a" stroke-width="0.6"/>
<text x="190.5" y="660.6" text-anchor="middle">-3</text>
<line x1="223.6" y1="655.4" x2="223.6" y2="657" stroke="#8a8a8a" stroke-width="0.6"/>
<text x="223.6" y="660.6" text-anchor="middle">-2</text>
<line x1="256.7" y1="655.4" x2="256.7" y2="657" stroke="#8a8a8a" stroke-width="0.6"/>
<text x="256.7" y="660.6" text-anchor="middle">-1</text>
<text x="154" y="665.7" text-anchor="middle" font-size="4.1">log(lambda)</text>
<text transform="translate(33.9,622.1) rotate(-90)" text-anchor="middle" font-size="3.7">Partial Likelihood Deviance</text>
</g>
<line x1="48.9" y1="588.8" x2="48.9" y2="655.4" stroke="#ffb0b0" stroke-width="0.6"/>
<text x="44.8" y="592.6" font-family="Liberation Serif" font-size="3.8" fill="#222">λ=6.4×10<tspan dy="-1.4" font-size="2.7">-3</tspan></text>
<g fill="#ff2020"><rect x="48.25" y="649.15" width="1.3" height="1.3"/><rect x="50.34" y="649.09" width="1.3" height="1.3"/><rect x="52.43" y="649.03" width="1.3" height="1.3"/><rect x="54.53" y="648.97" width="1.3" height="1.3"/><rect x="56.62" y="648.9" width="1.3" height="1.3"/><rect x="58.71" y="648.84" width="1.3" height="1.3"/><rect x="60.8" y="648.78" width="1.3" height="1.3"/><rect x="62.89" y="648.72" width="1.3" height="1.3"/><rect x="64.99" y="648.66" width="1.3" height="1.3"/><rect x="67.08" y="648.6" width="1.3" height="1.3"/><rect x="69.17" y="648.54" width="1.3" height="1.3"/><rect x="71.26" y="648.47" width="1.3" height="1.3"/><rect x="73.35" y="648.41" width="1.3" height="1.3"/><rect x="75.44" y="648.35" width="1.3" height="1.3"/><rect x="77.54" y="648.29" width="1.3" height="1.3"/><rect x="79.63" y="648.23" width="1.3" height="1.3"/><rect x="81.72" y="648.17" width="1.3" height="1.3"/><rect x="83.81" y="648.11" width="1.3" height="1.3"/><rect x="85.9" y="648.04" width="1.3" height="1.3"/><rect x="88" y="647.98" width="1.3" height="1.3"/><rect x="90.09" y="647.92" width="1.3" height="1.3"/><rect x="92.18" y="647.86" width="1.3" height="1.3"/><rect x="94.27" y="647.8" width="1.3" height="1.3"/><rect x="96.36" y="647.74" width="1.3" height="1.3"/><rect x="98.46" y="647.68" width="1.3" height="1.3"/><rect x="100.55" y="647.6" width="1.3" height="1.3"/><rect x="102.64" y="647.5" width="1.3" height="1.3"/><rect x="104.73" y="647.41" width="1.3" height="1.3"/><rect x="106.82" y="647.31" width="1.3" height="1.3"/><rect x="108.92" y="647.22" width="1.3" height="1.3"/><rect x="111.01" y="647.13" width="1.3" height="1.3"/><rect x="113.1" y="647.03" width="1.3" height="1.3"/><rect x="115.19" y="646.94" width="1.3" height="1.3"/><rect x="117.28" y="646.84" width="1.3" height="1.3"/><rect x="119.38" y="646.75" width="1.3" height="1.3"/><rect x="121.47" y="646.65" width="1.3" height="1.3"/><rect x="123.56" y="646.56" width="1.3" height="1.3"/><rect x="125.65" y="646.47" width="1.3" height="1.3"/><rect x="127.74" y="646.37" width="1.3" height="1.3"/><rect x="129.83" y="646.28" width="1.3" height="1.3"/><rect x="131.93" y="646.18" width="1.3" height="1.3"/><rect x="134.02" y="646.09" width="1.3" height="1.3"/><rect x="136.11" y="646" width="1.3" height="1.3"/><rect x="138.2" y="645.9" width="1.3" height="1.3"/><rect x="140.29" y="645.77" width="1.3" height="1.3"/><rect x="142.39" y="645.59" width="1.3" height="1.3"/><rect x="144.48" y="645.42" width="1.3" height="1.3"/><rect x="146.57" y="645.24" width="1.3" height="1.3"/><rect x="148.66" y="645.06" width="1.3" height="1.3"/><rect x="150.75" y="644.89" width="1.3" height="1.3"/><rect x="152.85" y="644.71" width="1.3" height="1.3"/><rect x="154.94" y="644.52" width="1.3" height="1.3"/><rect x="157.03" y="644.17" width="1.3" height="1.3"/><rect x="159.12" y="643.81" width="1.3" height="1.3"/><rect x="161.21" y="643.46" width="1.3" height="1.3"/><rect x="163.31" y="643.11" width="1.3" height="1.3"/><rect x="165.4" y="642.75" width="1.3" height="1.3"/><rect x="167.49" y="642.4" width="1.3" height="1.3"/><rect x="169.58" y="642.05" width="1.3" height="1.3"/><rect x="171.67" y="641.7" width="1.3" height="1.3"/><rect x="173.77" y="641.34" width="1.3" height="1.3"/><rect x="175.86" y="640.99" width="1.3" height="1.3"/><rect x="177.95" y="640.64" width="1.3" height="1.3"/><rect x="180.04" y="640.29" width="1.3" height="1.3"/><rect x="182.13" y="639.72" width="1.3" height="1.3"/><rect x="184.22" y="639.14" width="1.3" height="1.3"/><rect x="186.32" y="638.55" width="1.3" height="1.3"/><rect x="188.41" y="637.97" width="1.3" height="1.3"/><rect x="190.5" y="637.38" width="1.3" height="1.3"/><rect x="192.59" y="636.8" width="1.3" height="1.3"/><rect x="194.68" y="636.22" width="1.3" height="1.3"/><rect x="196.78" y="635.63" width="1.3" height="1.3"/><rect x="198.87" y="635.05" width="1.3" height="1.3"/><rect x="200.96" y="634.46" width="1.3" height="1.3"/><rect x="203.05" y="633.88" width="1.3" height="1.3"/><rect x="205.14" y="633.29" width="1.3" height="1.3"/><rect x="207.24" y="632.47" width="1.3" height="1.3"/><rect x="209.33" y="631.58" width="1.3" height="1.3"/><rect x="211.42" y="630.69" width="1.3" height="1.3"/><rect x="213.51" y="629.79" width="1.3" height="1.3"/><rect x="215.6" y="628.9" width="1.3" height="1.3"/><rect x="217.7" y="628.01" width="1.3" height="1.3"/><rect x="219.79" y="627.11" width="1.3" height="1.3"/><rect x="221.88" y="626.22" width="1.3" height="1.3"/><rect x="223.97" y="625.19" width="1.3" height="1.3"/><rect x="226.06" y="623.73" width="1.3" height="1.3"/><rect x="228.16" y="622.28" width="1.3" height="1.3"/><rect x="230.25" y="620.82" width="1.3" height="1.3"/><rect x="232.34" y="619.37" width="1.3" height="1.3"/><rect x="234.43" y="617.91" width="1.3" height="1.3"/><rect x="236.52" y="616.37" width="1.3" height="1.3"/><rect x="238.61" y="614.24" width="1.3" height="1.3"/><rect x="240.71" y="612.11" width="1.3" height="1.3"/><rect x="242.8" y="609.97" width="1.3" height="1.3"/><rect x="244.89" y="607.84" width="1.3" height="1.3"/><rect x="246.98" y="605.37" width="1.3" height="1.3"/><rect x="249.07" y="602.11" width="1.3" height="1.3"/><rect x="251.17" y="598.86" width="1.3" height="1.3"/><rect x="253.26" y="595.6" width="1.3" height="1.3"/><rect x="255.35" y="592.35" width="1.3" height="1.3"/></g>
</g>
<text x="287.3" y="465.2" font-family="Liberation Serif" font-size="17.1" fill="#111">F</text>
<g id="F">
<rect x="326" y="464.6" width="217.4" height="104.2" fill="none" stroke="#8a8a8a" stroke-width="0.8"/>
<g font-family="Liberation Serif" font-size="3.6" fill="#111">
<line x1="324.4" y1="477.6" x2="326" y2="477.6" stroke="#8a8a8a" stroke-width="0.6"/>
<text x="323.6" y="478.8" text-anchor="end">0.4</text>
<line x1="324.4" y1="503.9" x2="326" y2="503.9" stroke="#8a8a8a" stroke-width="0.6"/>
<text x="323.6" y="505.1" text-anchor="end">0.2</text>
<line x1="324.4" y1="530.2" x2="326" y2="530.2" stroke="#8a8a8a" stroke-width="0.6"/>
<text x="323.6" y="531.4" text-anchor="end">0.0</text>
<line x1="324.4" y1="556.5" x2="326" y2="556.5" stroke="#8a8a8a" stroke-width="0.6"/>
<text x="323.6" y="557.7" text-anchor="end">-0.2</text>
<line x1="355.2" y1="568.8" x2="355.2" y2="570.4" stroke="#8a8a8a" stroke-width="0.6"/>
<text x="355.2" y="574" text-anchor="middle">2</text>
<line x1="383.9" y1="568.8" x2="383.9" y2="570.4" stroke="#8a8a8a" stroke-width="0.6"/>
<text x="383.9" y="574" text-anchor="middle">3</text>
<line x1="412.6" y1="568.8" x2="412.6" y2="570.4" stroke="#8a8a8a" stroke-width="0.6"/>
<text x="412.6" y="574" text-anchor="middle">4</text>
<line x1="441.3" y1="568.8" x2="441.3" y2="570.4" stroke="#8a8a8a" stroke-width="0.6"/>
<text x="441.3" y="574" text-anchor="middle">5</text>
<line x1="470" y1="568.8" x2="470" y2="570.4" stroke="#8a8a8a" stroke-width="0.6"/>
<text x="470" y="574" text-anchor="middle">6</text>
<line x1="498.7" y1="568.8" x2="498.7" y2="570.4" stroke="#8a8a8a" stroke-width="0.6"/>
<text x="498.7" y="574" text-anchor="middle">7</text>
<text x="433" y="579.1" text-anchor="middle" font-size="4.1">-log(lambda)</text>
<text transform="translate(314.5,516.7) rotate(-90)" text-anchor="middle" font-size="3.7">Coefficients</text>
</g>
<path d="M440 530.2 C446.67 530.43 469.08 531.13 480 531.6 C490.92 532.07 501.25 532.77 505.5 533" stroke="#f06060" stroke-width="0.8" fill="none" stroke-opacity="1.0" stroke-linejoin="round" stroke-linecap="round"/>
<path d="M440 530.2 C446.67 530.6 469.08 531.8 480 532.6 C490.92 533.4 501.25 534.6 505.5 535" stroke="#e0c040" stroke-width="0.8" fill="none" stroke-opacity="1.0" stroke-linejoin="round" stroke-linecap="round"/>
<path d="M440 530.2 C446.67 529.98 469.08 529.3 480 528.85 C490.92 528.4 501.25 527.73 505.5 527.5" stroke="#30c0c0" stroke-width="0.8" fill="none" stroke-opacity="1.0" stroke-linejoin="round" stroke-linecap="round"/>
<path d="M440 530.2 C446.67 530.31 469.08 530.63 480 530.85 C490.92 531.07 501.25 531.39 505.5 531.5" stroke="#40a0f0" stroke-width="0.8" fill="none" stroke-opacity="1.0" stroke-linejoin="round" stroke-linecap="round"/>
<path d="M440 530.2 C446.67 530.1 469.08 529.8 480 529.6 C490.92 529.4 501.25 529.1 505.5 529" stroke="#e060c0" stroke-width="0.8" fill="none" stroke-opacity="1.0" stroke-linejoin="round" stroke-linecap="round"/>
<line x1="326.0" y1="530.2" x2="505.5" y2="530.2" stroke="#4060e0" stroke-width="1.3"/>
<path d="M326.2 530.2 C327 529 329.37 525.33 331 523 C332.63 520.67 334.67 517.6 336 516.2 C337.33 514.8 338.05 515.23 339 514.6 C339.95 513.97 340.87 512.53 341.7 512.4 C342.53 512.27 342.78 513.77 344 513.8 C345.22 513.83 347.33 512.7 349 512.6 C350.67 512.5 352.33 513.23 354 513.2 C355.67 513.17 356.83 513.02 359 512.4 C361.17 511.78 364.03 510.77 367 509.5 C369.97 508.23 372.13 507.22 376.8 504.8 C381.47 502.38 388.63 498.82 395 495 C401.37 491.18 410.83 484.4 415 481.9 C419.17 479.4 417.65 481.07 420 480 C422.35 478.93 426.07 476.87 429.1 475.5 C432.13 474.13 435.17 472.93 438.2 471.8 C441.23 470.67 444.27 469.52 447.3 468.7 C450.33 467.88 451.87 467.5 456.4 466.9 C460.93 466.3 468.45 465.48 474.5 465.1 C480.55 464.72 487.53 464.68 492.7 464.6 C497.87 464.52 503.37 464.6 505.5 464.6" stroke="#ff8833" stroke-width="1.2" fill="none" stroke-opacity="1.0" stroke-linejoin="round" stroke-linecap="round"/>
<path d="M337 530.2 C337.5 529.83 339.08 528.53 340 528 C340.92 527.47 341.58 527.67 342.5 527 C343.42 526.33 344.42 525 345.5 524 C346.58 523 347.18 521.87 349 521 C350.82 520.13 353.73 519.23 356.4 518.8 C359.07 518.37 360.23 518.4 365 518.4 C369.77 518.4 375.83 518.47 385 518.8 C394.17 519.13 408.1 519.9 420 520.4 C431.9 520.9 444.28 521.27 456.4 521.8 C468.52 522.33 484.52 523.17 492.7 523.6 C500.88 524.03 503.37 524.27 505.5 524.4" stroke="#44e066" stroke-width="1.2" fill="none" stroke-opacity="1.0" stroke-linejoin="round" stroke-linecap="round"/>
<path d="M340 530.2 C341.67 529.75 346.83 528.22 350 527.5 C353.17 526.78 354.83 526.32 359 525.9 C363.17 525.48 365.67 525.27 375 525 C384.33 524.73 393.25 524.22 415 524.3 C436.75 524.38 490.42 525.3 505.5 525.5" stroke="#33b0e0" stroke-width="1.2" fill="none" stroke-opacity="1.0" stroke-linejoin="round" stroke-linecap="round"/>
<path d="M349 530.2 C354.17 530.33 368.17 530.33 380 531 C391.83 531.67 407.27 533.15 420 534.2 C432.73 535.25 442.15 536.18 456.4 537.3 C470.65 538.42 497.32 540.3 505.5 540.9" stroke="#7b40d0" stroke-width="1.2" fill="none" stroke-opacity="1.0" stroke-linejoin="round" stroke-linecap="round"/>
<path d="M350 530.2 C355.83 530.5 374.17 531.12 385 532 C395.83 532.88 403.1 534.23 415 535.5 C426.9 536.77 441.32 538.55 456.4 539.6 C471.48 540.65 497.32 541.43 505.5 541.8" stroke="#b8e850" stroke-width="1.2" fill="none" stroke-opacity="1.0" stroke-linejoin="round" stroke-linecap="round"/>
<path d="M349 530.2 C350.23 530.92 353.73 532.95 356.4 534.5 C359.07 536.05 361.98 537.98 365 539.5 C368.02 541.02 369.88 541.7 374.5 543.6 C379.12 545.5 385.12 548.28 392.7 550.9 C400.28 553.52 412.42 557.18 420 559.3 C427.58 561.42 432.13 562.52 438.2 563.6 C444.27 564.68 445.18 565.18 456.4 565.8 C467.62 566.42 497.32 567.05 505.5 567.3" stroke="#30e088" stroke-width="1.2" fill="none" stroke-opacity="1.0" stroke-linejoin="round" stroke-linecap="round"/>
<path d="M432.7 530.2 L505.5 503.6" stroke="#8a36d0" stroke-width="1.2" fill="none" stroke-opacity="1.0" stroke-linejoin="round" stroke-linecap="round"/>
<text x="499" y="468.2" font-family="Liberation Serif" font-size="3.8" fill="#222">λ=6.4×10<tspan dy="-1.4" font-size="2.7">-3</tspan></text>
<line x1="492" y1="466" x2="505.8" y2="474.3" stroke="#f0b070" stroke-width="0.4"/>
<line x1="492" y1="545" x2="505.8" y2="480.6" stroke="#e060e0" stroke-width="0.4"/>
<line x1="492" y1="545" x2="505.8" y2="486.9" stroke="#80e080" stroke-width="0.4"/>
<line x1="492" y1="531" x2="505.8" y2="493.3" stroke="#60d0e0" stroke-width="0.4"/>
<line x1="492" y1="531" x2="505.8" y2="499.6" stroke="#e060e0" stroke-width="0.4"/>
<line x1="492" y1="531" x2="505.8" y2="505.9" stroke="#a070e0" stroke-width="0.4"/>
<line x1="492" y1="531" x2="505.8" y2="512.3" stroke="#e060c0" stroke-width="0.4"/>
<line x1="492" y1="531" x2="505.8" y2="518.6" stroke="#60a0f0" stroke-width="0.4"/>
<line x1="492" y1="531" x2="505.8" y2="525" stroke="#60d0e0" stroke-width="0.4"/>
<line x1="492" y1="531" x2="505.8" y2="531.3" stroke="#6080f0" stroke-width="0.4"/>
<line x1="492" y1="531" x2="505.8" y2="537.7" stroke="#e0e060" stroke-width="0.4"/>
<line x1="492" y1="531" x2="505.8" y2="544" stroke="#f080b0" stroke-width="0.4"/>
<line x1="492" y1="531" x2="505.8" y2="550.4" stroke="#a070e0" stroke-width="0.4"/>
<line x1="492" y1="531" x2="505.8" y2="556.7" stroke="#c0e070" stroke-width="0.4"/>
<line x1="492" y1="531" x2="505.8" y2="563.1" stroke="#80e0a0" stroke-width="0.4"/>
<rect x="505.8" y="471.45" width="15.51" height="5.7" rx="0.7" fill="#fff" stroke="#f0b070" stroke-width="0.6"/>
<text x="506.8" y="475.65" font-family="Liberation Serif" font-size="3.8" fill="#1a1a1a">SLC7A5</text>
<rect x="505.8" y="477.75" width="13.19" height="5.7" rx="0.7" fill="#fff" stroke="#e060e0" stroke-width="0.6"/>
<text x="506.8" y="481.95" font-family="Liberation Serif" font-size="3.8" fill="#1a1a1a">GPR62</text>
<rect x="505.8" y="484.05" width="14.03" height="5.7" rx="0.7" fill="#fff" stroke="#80e080" stroke-width="0.6"/>
<text x="506.8" y="488.25" font-family="Liberation Serif" font-size="3.8" fill="#1a1a1a">LRRK2</text>
<rect x="505.8" y="490.45" width="11.08" height="5.7" rx="0.7" fill="#fff" stroke="#60d0e0" stroke-width="0.6"/>
<text x="506.8" y="494.65" font-family="Liberation Serif" font-size="3.8" fill="#1a1a1a">CD36</text>
<rect x="505.8" y="496.75" width="14.25" height="5.7" rx="0.7" fill="#fff" stroke="#e060e0" stroke-width="0.6"/>
<text x="506.8" y="500.95" font-family="Liberation Serif" font-size="3.8" fill="#1a1a1a">PDGFB</text>
<rect x="505.8" y="503.05" width="17.19" height="5.7" rx="0.7" fill="#fff" stroke="#a070e0" stroke-width="0.6"/>
<text x="506.8" y="507.25" font-family="Liberation Serif" font-size="3.8" fill="#1a1a1a">KRT17P3</text>
<rect x="505.8" y="509.45" width="15.51" height="5.7" rx="0.7" fill="#fff" stroke="#e060c0" stroke-width="0.6"/>
<text x="506.8" y="513.65" font-family="Liberation Serif" font-size="3.8" fill="#1a1a1a">NLRP12</text>
<rect x="505.8" y="515.75" width="17.42" height="5.7" rx="0.7" fill="#fff" stroke="#60a0f0" stroke-width="0.6"/>
<text x="506.8" y="519.95" font-family="Liberation Serif" font-size="3.8" fill="#1a1a1a">FRMD4A</text>
<rect x="505.8" y="522.15" width="14.67" height="5.7" rx="0.7" fill="#fff" stroke="#60d0e0" stroke-width="0.6"/>
<text x="506.8" y="526.35" font-family="Liberation Serif" font-size="3.8" fill="#1a1a1a">NRXN3</text>
<rect x="505.8" y="528.45" width="14.67" height="5.7" rx="0.7" fill="#fff" stroke="#6080f0" stroke-width="0.6"/>
<text x="506.8" y="532.65" font-family="Liberation Serif" font-size="3.8" fill="#1a1a1a">MRAP2</text>
<rect x="505.8" y="534.85" width="9.81" height="5.7" rx="0.7" fill="#fff" stroke="#e0e060" stroke-width="0.6"/>
<text x="506.8" y="539.05" font-family="Liberation Serif" font-size="3.8" fill="#1a1a1a">GAL</text>
<rect x="505.8" y="541.15" width="20.37" height="5.7" rx="0.7" fill="#fff" stroke="#f080b0" stroke-width="0.6"/>
<text x="506.8" y="545.35" font-family="Liberation Serif" font-size="3.8" fill="#1a1a1a">LINC02432</text>
<rect x="505.8" y="547.55" width="12.77" height="5.7" rx="0.7" fill="#fff" stroke="#a070e0" stroke-width="0.6"/>
<text x="506.8" y="551.75" font-family="Liberation Serif" font-size="3.8" fill="#1a1a1a">RADX</text>
<rect x="505.8" y="553.85" width="19.57" height="5.7" rx="0.7" fill="#fff" stroke="#c0e070" stroke-width="0.6"/>
<text x="506.8" y="558.05" font-family="Liberation Serif" font-size="3.8" fill="#1a1a1a">OLYD3MP</text>
<rect x="505.8" y="560.25" width="17.2" height="5.7" rx="0.7" fill="#fff" stroke="#80e0a0" stroke-width="0.6"/>
<text x="506.8" y="564.45" font-family="Liberation Serif" font-size="3.8" fill="#1a1a1a">TNFSF15</text>
</g>
<g id="Fb">
<rect x="323.4" y="588.5" width="219.2" height="66.1" fill="none" stroke="#8a8a8a" stroke-width="0.8"/>
<g font-family="Liberation Serif" font-size="3.6" fill="#111">
<line x1="321.8" y1="589.8" x2="323.4" y2="589.8" stroke="#8a8a8a" stroke-width="0.6"/>
<text x="321" y="591" text-anchor="end">1.5</text>
<line x1="321.8" y1="609.7" x2="323.4" y2="609.7" stroke="#8a8a8a" stroke-width="0.6"/>
<text x="321" y="610.9" text-anchor="end">1.0</text>
<line x1="321.8" y1="629.6" x2="323.4" y2="629.6" stroke="#8a8a8a" stroke-width="0.6"/>
<text x="321" y="630.8" text-anchor="end">0.5</text>
<line x1="321.8" y1="649.6" x2="323.4" y2="649.6" stroke="#8a8a8a" stroke-width="0.6"/>
<text x="321" y="650.8" text-anchor="end">0.0</text>
<line x1="338.5" y1="654.6" x2="338.5" y2="656.2" stroke="#8a8a8a" stroke-width="0.6"/>
<text x="338.5" y="659.8" text-anchor="middle">-7</text>
<line x1="371.55" y1="654.6" x2="371.55" y2="656.2" stroke="#8a8a8a" stroke-width="0.6"/>
<text x="371.55" y="659.8" text-anchor="middle">-6</text>
<line x1="404.6" y1="654.6" x2="404.6" y2="656.2" stroke="#8a8a8a" stroke-width="0.6"/>
<text x="404.6" y="659.8" text-anchor="middle">-5</text>
<line x1="437.65" y1="654.6" x2="437.65" y2="656.2" stroke="#8a8a8a" stroke-width="0.6"/>
<text x="437.65" y="659.8" text-anchor="middle">-4</text>
<line x1="470.7" y1="654.6" x2="470.7" y2="656.2" stroke="#8a8a8a" stroke-width="0.6"/>
<text x="470.7" y="659.8" text-anchor="middle">-3</text>
<line x1="503.75" y1="654.6" x2="503.75" y2="656.2" stroke="#8a8a8a" stroke-width="0.6"/>
<text x="503.75" y="659.8" text-anchor="middle">-2</text>
<line x1="536.8" y1="654.6" x2="536.8" y2="656.2" stroke="#8a8a8a" stroke-width="0.6"/>
<text x="536.8" y="659.8" text-anchor="middle">-1</text>
<text x="433" y="664.9" text-anchor="middle" font-size="4.1">log(lambda)</text>
<text transform="translate(315,621.55) rotate(-90)" text-anchor="middle" font-size="3.7">Partial Likelihood Deviance</text>
</g>
<line x1="329.2" y1="588.5" x2="329.2" y2="654.6" stroke="#ffb0b0" stroke-width="0.6"/>
<text x="325" y="592.4" font-family="Liberation Serif" font-size="3.8" fill="#222">λ=6.4×10<tspan dy="-1.4" font-size="2.7">-3</tspan></text>
<g fill="#ff2020"><rect x="328.55" y="648.45" width="1.3" height="1.3"/><rect x="330.65" y="648.39" width="1.3" height="1.3"/><rect x="332.74" y="648.33" width="1.3" height="1.3"/><rect x="334.84" y="648.26" width="1.3" height="1.3"/><rect x="336.94" y="648.2" width="1.3" height="1.3"/><rect x="339.03" y="648.14" width="1.3" height="1.3"/><rect x="341.13" y="648.08" width="1.3" height="1.3"/><rect x="343.23" y="648.02" width="1.3" height="1.3"/><rect x="345.33" y="647.95" width="1.3" height="1.3"/><rect x="347.42" y="647.89" width="1.3" height="1.3"/><rect x="349.52" y="647.83" width="1.3" height="1.3"/><rect x="351.62" y="647.77" width="1.3" height="1.3"/><rect x="353.71" y="647.71" width="1.3" height="1.3"/><rect x="355.81" y="647.65" width="1.3" height="1.3"/><rect x="357.91" y="647.58" width="1.3" height="1.3"/><rect x="360" y="647.52" width="1.3" height="1.3"/><rect x="362.1" y="647.46" width="1.3" height="1.3"/><rect x="364.2" y="647.4" width="1.3" height="1.3"/><rect x="366.3" y="647.34" width="1.3" height="1.3"/><rect x="368.39" y="647.27" width="1.3" height="1.3"/><rect x="370.49" y="647.21" width="1.3" height="1.3"/><rect x="372.59" y="647.15" width="1.3" height="1.3"/><rect x="374.68" y="647.09" width="1.3" height="1.3"/><rect x="376.78" y="647.03" width="1.3" height="1.3"/><rect x="378.88" y="646.96" width="1.3" height="1.3"/><rect x="380.97" y="646.88" width="1.3" height="1.3"/><rect x="383.07" y="646.78" width="1.3" height="1.3"/><rect x="385.17" y="646.68" width="1.3" height="1.3"/><rect x="387.27" y="646.59" width="1.3" height="1.3"/><rect x="389.36" y="646.49" width="1.3" height="1.3"/><rect x="391.46" y="646.4" width="1.3" height="1.3"/><rect x="393.56" y="646.3" width="1.3" height="1.3"/><rect x="395.65" y="646.2" width="1.3" height="1.3"/><rect x="397.75" y="646.11" width="1.3" height="1.3"/><rect x="399.85" y="646.01" width="1.3" height="1.3"/><rect x="401.94" y="645.92" width="1.3" height="1.3"/><rect x="404.04" y="645.82" width="1.3" height="1.3"/><rect x="406.14" y="645.73" width="1.3" height="1.3"/><rect x="408.23" y="645.63" width="1.3" height="1.3"/><rect x="410.33" y="645.53" width="1.3" height="1.3"/><rect x="412.43" y="645.44" width="1.3" height="1.3"/><rect x="414.53" y="645.33" width="1.3" height="1.3"/><rect x="416.62" y="645.13" width="1.3" height="1.3"/><rect x="418.72" y="644.92" width="1.3" height="1.3"/><rect x="420.82" y="644.72" width="1.3" height="1.3"/><rect x="422.91" y="644.51" width="1.3" height="1.3"/><rect x="425.01" y="644.31" width="1.3" height="1.3"/><rect x="427.11" y="644.11" width="1.3" height="1.3"/><rect x="429.2" y="643.9" width="1.3" height="1.3"/><rect x="431.3" y="643.67" width="1.3" height="1.3"/><rect x="433.4" y="643.35" width="1.3" height="1.3"/><rect x="435.5" y="643.03" width="1.3" height="1.3"/><rect x="437.59" y="642.71" width="1.3" height="1.3"/><rect x="439.69" y="642.39" width="1.3" height="1.3"/><rect x="441.79" y="642.07" width="1.3" height="1.3"/><rect x="443.88" y="641.75" width="1.3" height="1.3"/><rect x="445.98" y="641.43" width="1.3" height="1.3"/><rect x="448.08" y="641.11" width="1.3" height="1.3"/><rect x="450.17" y="640.8" width="1.3" height="1.3"/><rect x="452.27" y="640.48" width="1.3" height="1.3"/><rect x="454.37" y="640.16" width="1.3" height="1.3"/><rect x="456.47" y="639.84" width="1.3" height="1.3"/><rect x="458.56" y="639.45" width="1.3" height="1.3"/><rect x="460.66" y="639.04" width="1.3" height="1.3"/><rect x="462.76" y="638.63" width="1.3" height="1.3"/><rect x="464.85" y="638.21" width="1.3" height="1.3"/><rect x="466.95" y="637.8" width="1.3" height="1.3"/><rect x="469.05" y="637.39" width="1.3" height="1.3"/><rect x="471.14" y="636.88" width="1.3" height="1.3"/><rect x="473.24" y="636.24" width="1.3" height="1.3"/><rect x="475.34" y="635.61" width="1.3" height="1.3"/><rect x="477.43" y="634.97" width="1.3" height="1.3"/><rect x="479.53" y="634.34" width="1.3" height="1.3"/><rect x="481.63" y="633.7" width="1.3" height="1.3"/><rect x="483.73" y="633.04" width="1.3" height="1.3"/><rect x="485.82" y="632.2" width="1.3" height="1.3"/><rect x="487.92" y="631.36" width="1.3" height="1.3"/><rect x="490.02" y="630.51" width="1.3" height="1.3"/><rect x="492.11" y="629.67" width="1.3" height="1.3"/><rect x="494.21" y="628.83" width="1.3" height="1.3"/><rect x="496.31" y="627.99" width="1.3" height="1.3"/><rect x="498.4" y="626.99" width="1.3" height="1.3"/><rect x="500.5" y="625.95" width="1.3" height="1.3"/><rect x="502.6" y="624.92" width="1.3" height="1.3"/><rect x="504.7" y="623.89" width="1.3" height="1.3"/><rect x="506.79" y="622.86" width="1.3" height="1.3"/><rect x="508.89" y="621.82" width="1.3" height="1.3"/><rect x="510.99" y="620.4" width="1.3" height="1.3"/><rect x="513.08" y="618.65" width="1.3" height="1.3"/><rect x="515.18" y="616.9" width="1.3" height="1.3"/><rect x="517.28" y="615.14" width="1.3" height="1.3"/><rect x="519.37" y="613.13" width="1.3" height="1.3"/><rect x="521.47" y="611.03" width="1.3" height="1.3"/><rect x="523.57" y="608.93" width="1.3" height="1.3"/><rect x="525.67" y="606.83" width="1.3" height="1.3"/><rect x="527.76" y="604.22" width="1.3" height="1.3"/><rect x="529.86" y="601.61" width="1.3" height="1.3"/><rect x="531.96" y="598.86" width="1.3" height="1.3"/><rect x="534.05" y="595.95" width="1.3" height="1.3"/><rect x="536.15" y="593.05" width="1.3" height="1.3"/></g>
</g>
</svg>
</body></html>
